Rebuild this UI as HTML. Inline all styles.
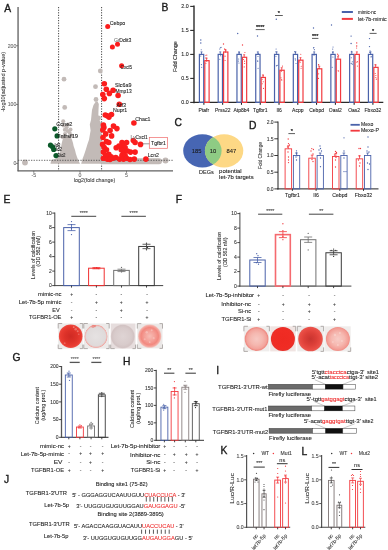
<!DOCTYPE html>
<html><head><meta charset="utf-8"><style>
html,body{margin:0;padding:0;background:#fff;}
svg{display:block;}
text{font-family:'Liberation Sans', Arial, sans-serif;}
</style></head><body>
<svg width="388" height="550" viewBox="0 0 388 550">
<rect width="388" height="550" fill="#ffffff"/>
<text x="4.20" y="11.50" font-size="10.3" fill="#1a1a1a" stroke="#1a1a1a" stroke-width="0.35">A</text>
<line x1="58.60" y1="7.00" x2="58.60" y2="171.00" stroke="#444" stroke-width="1.0" stroke-dasharray="1.2 1.4"/>
<line x1="101.60" y1="7.00" x2="101.60" y2="171.00" stroke="#444" stroke-width="1.0" stroke-dasharray="1.2 1.4"/>
<path d="M50.5 163.8 L51.2 160 L56 158.5 L59.2 156 L59.7 153.8 L60.5 150 L61.2 146 L62 142 L62.8 139 L63.8 137 L66 136 L68 135.5 L70.5 136.5 L72 139.8 L73 143 L73.6 146 L75 150 L75.9 153.8 L77 157 L78.2 160 L80 163.8 Z" fill="#c2bab7"/>
<circle cx="63.20" cy="121.30" r="2.00" fill="#c2bab7"/>
<circle cx="64.80" cy="129.80" r="2.00" fill="#c2bab7"/>
<circle cx="69.70" cy="132.90" r="2.00" fill="#c2bab7"/>
<circle cx="66.60" cy="127.20" r="2.00" fill="#c2bab7"/>
<circle cx="67.50" cy="131.00" r="2.00" fill="#c2bab7"/>
<circle cx="65.00" cy="134.00" r="2.00" fill="#c2bab7"/>
<circle cx="70.50" cy="129.50" r="2.00" fill="#c2bab7"/>
<circle cx="63.50" cy="125.50" r="2.00" fill="#c2bab7"/>
<circle cx="62.50" cy="137.00" r="2.00" fill="#c2bab7"/>
<circle cx="71.50" cy="135.50" r="2.00" fill="#c2bab7"/>
<circle cx="68.00" cy="124.50" r="2.00" fill="#c2bab7"/>
<path d="M81.2 163.8 L82.1 160 L84 155 L86 149 L87.5 144 L89 139.8 L90 134 L90.6 130.6 L89.8 124.4 L91 120 L91.4 116 L92 110 L93.5 105 L95.5 102 L97.5 101.5 L98.8 104 L98.5 110 L98.3 118 L100 121 L101.6 124 L101.6 163.8 Z" fill="#c2bab7"/>
<rect x="100" y="158.3" width="62" height="6" rx="3" fill="#c2bab7"/>
<circle cx="64.00" cy="79.20" r="2.40" fill="#c2bab7"/>
<circle cx="100.30" cy="71.00" r="2.40" fill="#c2bab7"/>
<circle cx="95.50" cy="86.70" r="2.40" fill="#c2bab7"/>
<circle cx="64.70" cy="107.40" r="2.40" fill="#c2bab7"/>
<circle cx="98.50" cy="118.00" r="2.40" fill="#c2bab7"/>
<circle cx="96.00" cy="99.50" r="2.40" fill="#c2bab7"/>
<circle cx="25.00" cy="162.50" r="2.90" fill="#c2bab7"/>
<circle cx="165.50" cy="160.60" r="3.00" fill="#c2bab7"/>
<line x1="18.00" y1="160.30" x2="173.00" y2="160.30" stroke="#444" stroke-width="0.8" stroke-dasharray="1.3 1.3"/>
<circle cx="107.70" cy="26.50" r="2.50" fill="#fb1d1d"/>
<circle cx="112.40" cy="46.90" r="2.50" fill="#fb1d1d"/>
<circle cx="117.50" cy="44.30" r="2.50" fill="#fb1d1d"/>
<circle cx="121.60" cy="65.70" r="2.50" fill="#fb1d1d"/>
<circle cx="104.30" cy="83.70" r="2.80" fill="#fb1d1d"/>
<circle cx="106.30" cy="89.30" r="2.80" fill="#fb1d1d"/>
<circle cx="109.40" cy="93.40" r="2.80" fill="#fb1d1d"/>
<circle cx="113.10" cy="90.30" r="2.80" fill="#fb1d1d"/>
<circle cx="118.10" cy="95.50" r="2.80" fill="#fb1d1d"/>
<circle cx="104.30" cy="98.60" r="2.80" fill="#fb1d1d"/>
<circle cx="102.80" cy="94.50" r="2.80" fill="#fb1d1d"/>
<circle cx="119.30" cy="104.30" r="2.80" fill="#fb1d1d"/>
<circle cx="105.30" cy="115.00" r="2.80" fill="#fb1d1d"/>
<circle cx="109.00" cy="117.10" r="2.80" fill="#fb1d1d"/>
<circle cx="111.50" cy="114.50" r="2.80" fill="#fb1d1d"/>
<circle cx="107.30" cy="115.80" r="2.80" fill="#fb1d1d"/>
<circle cx="103.40" cy="125.00" r="2.80" fill="#fb1d1d"/>
<circle cx="103.90" cy="127.40" r="2.80" fill="#fb1d1d"/>
<circle cx="113.50" cy="126.10" r="2.80" fill="#fb1d1d"/>
<circle cx="116.90" cy="128.60" r="2.80" fill="#fb1d1d"/>
<circle cx="110.10" cy="130.50" r="2.80" fill="#fb1d1d"/>
<circle cx="105.70" cy="133.90" r="2.80" fill="#fb1d1d"/>
<circle cx="111.60" cy="135.90" r="2.80" fill="#fb1d1d"/>
<circle cx="133.90" cy="123.00" r="2.80" fill="#fb1d1d"/>
<circle cx="102.80" cy="130.00" r="2.80" fill="#fb1d1d"/>
<circle cx="103.00" cy="137.50" r="2.80" fill="#fb1d1d"/>
<circle cx="106.50" cy="141.60" r="2.80" fill="#fb1d1d"/>
<circle cx="108.80" cy="142.50" r="2.80" fill="#fb1d1d"/>
<circle cx="102.60" cy="144.40" r="2.80" fill="#fb1d1d"/>
<circle cx="116.20" cy="147.80" r="2.80" fill="#fb1d1d"/>
<circle cx="122.00" cy="142.50" r="2.80" fill="#fb1d1d"/>
<circle cx="126.60" cy="142.50" r="2.80" fill="#fb1d1d"/>
<circle cx="133.30" cy="140.50" r="2.80" fill="#fb1d1d"/>
<circle cx="135.10" cy="142.50" r="2.80" fill="#fb1d1d"/>
<circle cx="140.50" cy="144.40" r="2.80" fill="#fb1d1d"/>
<circle cx="122.70" cy="145.90" r="2.80" fill="#fb1d1d"/>
<circle cx="125.10" cy="147.50" r="2.80" fill="#fb1d1d"/>
<circle cx="121.20" cy="149.80" r="2.80" fill="#fb1d1d"/>
<circle cx="123.50" cy="152.10" r="2.80" fill="#fb1d1d"/>
<circle cx="122.00" cy="155.20" r="2.80" fill="#fb1d1d"/>
<circle cx="125.10" cy="155.50" r="2.80" fill="#fb1d1d"/>
<circle cx="130.50" cy="152.10" r="2.80" fill="#fb1d1d"/>
<circle cx="135.10" cy="152.10" r="2.80" fill="#fb1d1d"/>
<circle cx="104.20" cy="147.50" r="2.80" fill="#fb1d1d"/>
<circle cx="106.50" cy="149.80" r="2.80" fill="#fb1d1d"/>
<circle cx="103.40" cy="152.10" r="2.80" fill="#fb1d1d"/>
<circle cx="105.70" cy="155.20" r="2.80" fill="#fb1d1d"/>
<circle cx="108.80" cy="154.40" r="2.80" fill="#fb1d1d"/>
<circle cx="111.10" cy="156.80" r="2.80" fill="#fb1d1d"/>
<circle cx="127.50" cy="151.00" r="2.80" fill="#fb1d1d"/>
<circle cx="119.00" cy="146.00" r="2.80" fill="#fb1d1d"/>
<circle cx="103.40" cy="158.30" r="2.80" fill="#fb1d1d"/>
<circle cx="107.30" cy="159.10" r="2.80" fill="#fb1d1d"/>
<circle cx="112.70" cy="158.30" r="2.80" fill="#fb1d1d"/>
<circle cx="115.80" cy="157.50" r="2.80" fill="#fb1d1d"/>
<circle cx="119.60" cy="159.10" r="2.80" fill="#fb1d1d"/>
<circle cx="123.50" cy="159.10" r="2.80" fill="#fb1d1d"/>
<circle cx="126.60" cy="158.30" r="2.80" fill="#fb1d1d"/>
<circle cx="134.30" cy="159.10" r="2.80" fill="#fb1d1d"/>
<circle cx="145.90" cy="159.10" r="2.80" fill="#fb1d1d"/>
<circle cx="130.00" cy="159.50" r="2.80" fill="#fb1d1d"/>
<circle cx="110.00" cy="159.50" r="2.80" fill="#fb1d1d"/>
<circle cx="54.80" cy="128.80" r="2.60" fill="#0c5a2a"/>
<circle cx="57.10" cy="135.90" r="2.60" fill="#0c5a2a"/>
<circle cx="50.50" cy="145.20" r="2.60" fill="#0c5a2a"/>
<circle cx="52.50" cy="146.80" r="2.60" fill="#0c5a2a"/>
<circle cx="53.70" cy="149.40" r="2.60" fill="#0c5a2a"/>
<circle cx="56.00" cy="155.60" r="2.60" fill="#0c5a2a"/>
<text x="109.80" y="24.60" font-size="5.2" fill="#222" textLength="15.50" lengthAdjust="spacingAndGlyphs" stroke="#222" stroke-width="0.09">Cebpo</text>
<text x="114.00" y="41.80" font-size="5.2" fill="#777" stroke="#777" stroke-width="0.09">Gr</text>
<text x="119.30" y="41.80" font-size="5.2" fill="#222" textLength="12.00" lengthAdjust="spacingAndGlyphs" stroke="#222" stroke-width="0.09">Ddit3</text>
<text x="120.60" y="68.90" font-size="5.2" fill="#222" textLength="11.60" lengthAdjust="spacingAndGlyphs" stroke="#222" stroke-width="0.09">Cxcl5</text>
<text x="115.00" y="86.90" font-size="5.2" fill="#222" textLength="16.40" lengthAdjust="spacingAndGlyphs" stroke="#222" stroke-width="0.09">Slc6a9</text>
<text x="115.50" y="93.30" font-size="5.2" fill="#222" textLength="16.20" lengthAdjust="spacingAndGlyphs" stroke="#222" stroke-width="0.09">Mmp13</text>
<text x="116.50" y="106.80" font-size="5.2" fill="#222" textLength="9.50" lengthAdjust="spacingAndGlyphs" stroke="#222" stroke-width="0.09">Atf3</text>
<text x="113.00" y="112.10" font-size="5.2" fill="#222" textLength="14.30" lengthAdjust="spacingAndGlyphs" stroke="#222" stroke-width="0.09">Nupr1</text>
<text x="135.30" y="120.60" font-size="5.2" fill="#222" textLength="15.20" lengthAdjust="spacingAndGlyphs" stroke="#222" stroke-width="0.09">Chac1</text>
<text x="130.50" y="138.70" font-size="5.2" fill="#777" stroke="#777" stroke-width="0.09">Ly</text>
<text x="135.60" y="138.70" font-size="5.2" fill="#222" textLength="12.10" lengthAdjust="spacingAndGlyphs" stroke="#222" stroke-width="0.09">Cxcl1</text>
<text x="147.70" y="156.60" font-size="5.2" fill="#222" textLength="11.30" lengthAdjust="spacingAndGlyphs" stroke="#222" stroke-width="0.09">Lcn2</text>
<text x="56.30" y="126.40" font-size="5.2" fill="#222" textLength="16.00" lengthAdjust="spacingAndGlyphs" stroke="#222" stroke-width="0.09">Ccne2</text>
<text x="57.00" y="137.60" font-size="5.2" fill="#222" textLength="21.00" lengthAdjust="spacingAndGlyphs" stroke="#222" stroke-width="0.09">Tnfrsf19</text>
<text x="54.50" y="146.90" font-size="5.2" fill="#222" textLength="6.00" lengthAdjust="spacingAndGlyphs" stroke="#222" stroke-width="0.09">Id3</text>
<text x="56.00" y="151.20" font-size="5.2" fill="#222" textLength="6.00" lengthAdjust="spacingAndGlyphs" stroke="#222" stroke-width="0.09">Id2</text>
<text x="57.50" y="157.40" font-size="5.2" fill="#222" textLength="8.00" lengthAdjust="spacingAndGlyphs" stroke="#222" stroke-width="0.09">Dio2</text>
<rect x="149.30" y="137.50" width="18.10" height="10.80" fill="none" stroke="#f06a6a" stroke-width="0.7"/>
<line x1="142.50" y1="143.80" x2="149.30" y2="143.80" stroke="#555" stroke-width="0.6"/>
<text x="151.00" y="144.60" font-size="5.2" fill="#222" textLength="14.80" lengthAdjust="spacingAndGlyphs" stroke="#222" stroke-width="0.09">Tgfbr1</text>
<line x1="18.05" y1="7.00" x2="18.05" y2="171.30" stroke="#505050" stroke-width="1.2"/>
<line x1="17.60" y1="170.80" x2="173.00" y2="170.80" stroke="#606060" stroke-width="1.2"/>
<line x1="16.20" y1="163.50" x2="18.10" y2="163.50" stroke="#666" stroke-width="0.8"/>
<text x="16.30" y="165.40" font-size="5.2" fill="#666" text-anchor="end" stroke="#666" stroke-width="0.09">0</text>
<line x1="16.20" y1="104.50" x2="18.10" y2="104.50" stroke="#666" stroke-width="0.8"/>
<text x="16.30" y="106.40" font-size="5.2" fill="#666" text-anchor="end" stroke="#666" stroke-width="0.09">100</text>
<line x1="16.20" y1="45.70" x2="18.10" y2="45.70" stroke="#666" stroke-width="0.8"/>
<text x="16.30" y="47.60" font-size="5.2" fill="#666" text-anchor="end" stroke="#666" stroke-width="0.09">200</text>
<line x1="33.80" y1="170.80" x2="33.80" y2="172.80" stroke="#666" stroke-width="0.8"/>
<text x="33.80" y="176.50" font-size="5.2" fill="#666" text-anchor="middle" stroke="#666" stroke-width="0.09">-5</text>
<line x1="80.00" y1="170.80" x2="80.00" y2="172.80" stroke="#666" stroke-width="0.8"/>
<text x="80.00" y="176.50" font-size="5.2" fill="#666" text-anchor="middle" stroke="#666" stroke-width="0.09">0</text>
<line x1="126.50" y1="170.80" x2="126.50" y2="172.80" stroke="#666" stroke-width="0.8"/>
<text x="126.50" y="176.50" font-size="5.2" fill="#666" text-anchor="middle" stroke="#666" stroke-width="0.09">5</text>
<text x="94.60" y="182.00" font-size="5.4" fill="#444" text-anchor="middle" textLength="41.30" lengthAdjust="spacingAndGlyphs" stroke="#444" stroke-width="0.09">log2(fold change)</text>
<text x="5.30" y="81.80" font-size="5.2" fill="#444" text-anchor="middle" textLength="60.00" lengthAdjust="spacingAndGlyphs" transform="rotate(-90 5.30 81.80)" stroke="#444" stroke-width="0.09">-log10(adjusted p-value)</text>
<text x="161.50" y="10.80" font-size="10.3" fill="#1a1a1a" stroke="#1a1a1a" stroke-width="0.35">B</text>
<line x1="194.00" y1="5.50" x2="194.00" y2="103.20" stroke="#2a2a2a" stroke-width="1.4"/>
<line x1="193.30" y1="102.40" x2="383.30" y2="102.40" stroke="#2a2a2a" stroke-width="1.3"/>
<line x1="190.20" y1="102.40" x2="194.00" y2="102.40" stroke="#2a2a2a" stroke-width="1.1"/>
<text x="188.60" y="104.30" font-size="5.3" fill="#222" text-anchor="end" stroke="#222" stroke-width="0.09">0.0</text>
<line x1="190.20" y1="78.40" x2="194.00" y2="78.40" stroke="#2a2a2a" stroke-width="1.1"/>
<text x="188.60" y="80.30" font-size="5.3" fill="#222" text-anchor="end" stroke="#222" stroke-width="0.09">0.5</text>
<line x1="190.20" y1="54.40" x2="194.00" y2="54.40" stroke="#2a2a2a" stroke-width="1.1"/>
<text x="188.60" y="56.30" font-size="5.3" fill="#222" text-anchor="end" stroke="#222" stroke-width="0.09">1.0</text>
<line x1="190.20" y1="30.40" x2="194.00" y2="30.40" stroke="#2a2a2a" stroke-width="1.1"/>
<text x="188.60" y="32.30" font-size="5.3" fill="#222" text-anchor="end" stroke="#222" stroke-width="0.09">1.5</text>
<line x1="190.20" y1="6.40" x2="194.00" y2="6.40" stroke="#2a2a2a" stroke-width="1.1"/>
<text x="188.60" y="8.30" font-size="5.3" fill="#222" text-anchor="end" stroke="#222" stroke-width="0.09">2.0</text>
<text x="177.40" y="56.60" font-size="5.4" fill="#222" text-anchor="middle" textLength="31.00" lengthAdjust="spacingAndGlyphs" transform="rotate(-90 177.40 56.60)" stroke="#222" stroke-width="0.09">Fold Change</text>
<line x1="203.90" y1="102.40" x2="203.90" y2="104.80" stroke="#111" stroke-width="1.0"/>
<text x="203.90" y="112.00" font-size="5.0" fill="#222" text-anchor="middle" stroke="#222" stroke-width="0.09">Ptafr</text>
<rect x="199.40" y="54.40" width="4.30" height="48.00" fill="none" stroke="#4a62aa" stroke-width="1.2"/>
<rect x="204.80" y="60.64" width="4.30" height="41.76" fill="none" stroke="#f23a3f" stroke-width="1.2"/>
<line x1="201.50" y1="51.90" x2="201.50" y2="54.40" stroke="#4a62aa" stroke-width="0.8"/>
<line x1="200.50" y1="51.90" x2="202.50" y2="51.90" stroke="#4a62aa" stroke-width="0.8"/>
<line x1="206.60" y1="58.14" x2="206.60" y2="60.64" stroke="#f23a3f" stroke-width="0.8"/>
<line x1="205.60" y1="58.14" x2="207.60" y2="58.14" stroke="#f23a3f" stroke-width="0.8"/>
<circle cx="201.22" cy="49.72" r="0.55" fill="#4a62aa"/>
<circle cx="206.84" cy="55.02" r="0.55" fill="#f23a3f"/>
<circle cx="201.56" cy="54.45" r="0.55" fill="#4a62aa"/>
<circle cx="205.89" cy="63.28" r="0.55" fill="#f23a3f"/>
<circle cx="200.76" cy="55.94" r="0.55" fill="#4a62aa"/>
<circle cx="205.91" cy="55.36" r="0.55" fill="#f23a3f"/>
<circle cx="201.38" cy="64.59" r="0.55" fill="#4a62aa"/>
<circle cx="206.00" cy="57.88" r="0.55" fill="#f23a3f"/>
<circle cx="201.70" cy="67.25" r="0.55" fill="#4a62aa"/>
<circle cx="206.72" cy="61.18" r="0.55" fill="#f23a3f"/>
<line x1="222.68" y1="102.40" x2="222.68" y2="104.80" stroke="#111" stroke-width="1.0"/>
<text x="222.68" y="112.00" font-size="5.0" fill="#222" text-anchor="middle" stroke="#222" stroke-width="0.09">Prss22</text>
<rect x="218.18" y="54.40" width="4.30" height="48.00" fill="none" stroke="#4a62aa" stroke-width="1.2"/>
<rect x="223.58" y="52.00" width="4.30" height="50.40" fill="none" stroke="#f23a3f" stroke-width="1.2"/>
<line x1="220.28" y1="51.90" x2="220.28" y2="54.40" stroke="#4a62aa" stroke-width="0.8"/>
<line x1="219.28" y1="51.90" x2="221.28" y2="51.90" stroke="#4a62aa" stroke-width="0.8"/>
<line x1="225.38" y1="49.50" x2="225.38" y2="52.00" stroke="#f23a3f" stroke-width="0.8"/>
<line x1="224.38" y1="49.50" x2="226.38" y2="49.50" stroke="#f23a3f" stroke-width="0.8"/>
<circle cx="221.04" cy="47.42" r="0.55" fill="#4a62aa"/>
<circle cx="225.95" cy="50.50" r="0.55" fill="#f23a3f"/>
<circle cx="219.71" cy="48.99" r="0.55" fill="#4a62aa"/>
<circle cx="225.07" cy="60.51" r="0.55" fill="#f23a3f"/>
<circle cx="219.77" cy="59.20" r="0.55" fill="#4a62aa"/>
<circle cx="225.60" cy="52.08" r="0.55" fill="#f23a3f"/>
<circle cx="220.36" cy="47.78" r="0.55" fill="#4a62aa"/>
<circle cx="224.68" cy="48.91" r="0.55" fill="#f23a3f"/>
<circle cx="220.57" cy="55.81" r="0.55" fill="#4a62aa"/>
<circle cx="225.08" cy="56.13" r="0.55" fill="#f23a3f"/>
<line x1="241.46" y1="102.40" x2="241.46" y2="104.80" stroke="#111" stroke-width="1.0"/>
<text x="241.46" y="112.00" font-size="5.0" fill="#222" text-anchor="middle" stroke="#222" stroke-width="0.09">Atp8b4</text>
<rect x="236.96" y="54.40" width="4.30" height="48.00" fill="none" stroke="#4a62aa" stroke-width="1.2"/>
<rect x="242.36" y="57.28" width="4.30" height="45.12" fill="none" stroke="#f23a3f" stroke-width="1.2"/>
<line x1="239.06" y1="51.90" x2="239.06" y2="54.40" stroke="#4a62aa" stroke-width="0.8"/>
<line x1="238.06" y1="51.90" x2="240.06" y2="51.90" stroke="#4a62aa" stroke-width="0.8"/>
<line x1="244.16" y1="54.78" x2="244.16" y2="57.28" stroke="#f23a3f" stroke-width="0.8"/>
<line x1="243.16" y1="54.78" x2="245.16" y2="54.78" stroke="#f23a3f" stroke-width="0.8"/>
<circle cx="238.99" cy="52.99" r="0.55" fill="#4a62aa"/>
<circle cx="244.63" cy="63.56" r="0.55" fill="#f23a3f"/>
<circle cx="238.65" cy="59.04" r="0.55" fill="#4a62aa"/>
<circle cx="244.20" cy="66.91" r="0.55" fill="#f23a3f"/>
<circle cx="239.43" cy="52.73" r="0.55" fill="#4a62aa"/>
<circle cx="244.93" cy="52.52" r="0.55" fill="#f23a3f"/>
<circle cx="238.93" cy="63.06" r="0.55" fill="#4a62aa"/>
<circle cx="243.60" cy="59.57" r="0.55" fill="#f23a3f"/>
<circle cx="238.32" cy="61.10" r="0.55" fill="#4a62aa"/>
<circle cx="244.58" cy="61.17" r="0.55" fill="#f23a3f"/>
<line x1="260.24" y1="102.40" x2="260.24" y2="104.80" stroke="#111" stroke-width="1.0"/>
<text x="260.24" y="112.00" font-size="5.0" fill="#222" text-anchor="middle" stroke="#222" stroke-width="0.09">Tgfbr1</text>
<rect x="255.74" y="54.40" width="4.30" height="48.00" fill="none" stroke="#4a62aa" stroke-width="1.2"/>
<rect x="261.14" y="77.44" width="4.30" height="24.96" fill="none" stroke="#f23a3f" stroke-width="1.2"/>
<line x1="257.84" y1="51.90" x2="257.84" y2="54.40" stroke="#4a62aa" stroke-width="0.8"/>
<line x1="256.84" y1="51.90" x2="258.84" y2="51.90" stroke="#4a62aa" stroke-width="0.8"/>
<line x1="262.94" y1="74.94" x2="262.94" y2="77.44" stroke="#f23a3f" stroke-width="0.8"/>
<line x1="261.94" y1="74.94" x2="263.94" y2="74.94" stroke="#f23a3f" stroke-width="0.8"/>
<circle cx="258.44" cy="53.30" r="0.55" fill="#4a62aa"/>
<circle cx="263.25" cy="81.73" r="0.55" fill="#f23a3f"/>
<circle cx="257.97" cy="56.44" r="0.55" fill="#4a62aa"/>
<circle cx="263.48" cy="88.39" r="0.55" fill="#f23a3f"/>
<circle cx="257.80" cy="61.01" r="0.55" fill="#4a62aa"/>
<circle cx="262.24" cy="83.77" r="0.55" fill="#f23a3f"/>
<circle cx="258.08" cy="68.25" r="0.55" fill="#4a62aa"/>
<circle cx="263.46" cy="75.85" r="0.55" fill="#f23a3f"/>
<circle cx="257.66" cy="61.11" r="0.55" fill="#4a62aa"/>
<circle cx="262.18" cy="79.21" r="0.55" fill="#f23a3f"/>
<line x1="279.02" y1="102.40" x2="279.02" y2="104.80" stroke="#111" stroke-width="1.0"/>
<text x="279.02" y="112.00" font-size="5.0" fill="#222" text-anchor="middle" stroke="#222" stroke-width="0.09">Il6</text>
<rect x="274.52" y="54.40" width="4.30" height="48.00" fill="none" stroke="#4a62aa" stroke-width="1.2"/>
<rect x="279.92" y="70.24" width="4.30" height="32.16" fill="none" stroke="#f23a3f" stroke-width="1.2"/>
<line x1="276.62" y1="51.90" x2="276.62" y2="54.40" stroke="#4a62aa" stroke-width="0.8"/>
<line x1="275.62" y1="51.90" x2="277.62" y2="51.90" stroke="#4a62aa" stroke-width="0.8"/>
<line x1="281.72" y1="67.74" x2="281.72" y2="70.24" stroke="#f23a3f" stroke-width="0.8"/>
<line x1="280.72" y1="67.74" x2="282.72" y2="67.74" stroke="#f23a3f" stroke-width="0.8"/>
<circle cx="276.09" cy="48.98" r="0.55" fill="#4a62aa"/>
<circle cx="281.01" cy="77.84" r="0.55" fill="#f23a3f"/>
<circle cx="276.03" cy="51.85" r="0.55" fill="#4a62aa"/>
<circle cx="281.55" cy="79.80" r="0.55" fill="#f23a3f"/>
<circle cx="275.95" cy="56.28" r="0.55" fill="#4a62aa"/>
<circle cx="281.80" cy="80.02" r="0.55" fill="#f23a3f"/>
<circle cx="277.13" cy="65.41" r="0.55" fill="#4a62aa"/>
<circle cx="281.37" cy="71.13" r="0.55" fill="#f23a3f"/>
<circle cx="276.39" cy="65.85" r="0.55" fill="#4a62aa"/>
<circle cx="282.45" cy="66.11" r="0.55" fill="#f23a3f"/>
<line x1="297.80" y1="102.40" x2="297.80" y2="104.80" stroke="#111" stroke-width="1.0"/>
<text x="297.80" y="112.00" font-size="5.0" fill="#222" text-anchor="middle" stroke="#222" stroke-width="0.09">Acpp</text>
<rect x="293.30" y="54.40" width="4.30" height="48.00" fill="none" stroke="#4a62aa" stroke-width="1.2"/>
<rect x="298.70" y="60.16" width="4.30" height="42.24" fill="none" stroke="#f23a3f" stroke-width="1.2"/>
<line x1="295.40" y1="51.90" x2="295.40" y2="54.40" stroke="#4a62aa" stroke-width="0.8"/>
<line x1="294.40" y1="51.90" x2="296.40" y2="51.90" stroke="#4a62aa" stroke-width="0.8"/>
<line x1="300.50" y1="57.66" x2="300.50" y2="60.16" stroke="#f23a3f" stroke-width="0.8"/>
<line x1="299.50" y1="57.66" x2="301.50" y2="57.66" stroke="#f23a3f" stroke-width="0.8"/>
<circle cx="294.88" cy="51.50" r="0.55" fill="#4a62aa"/>
<circle cx="300.07" cy="62.37" r="0.55" fill="#f23a3f"/>
<circle cx="295.54" cy="52.18" r="0.55" fill="#4a62aa"/>
<circle cx="299.71" cy="61.12" r="0.55" fill="#f23a3f"/>
<circle cx="295.19" cy="58.86" r="0.55" fill="#4a62aa"/>
<circle cx="301.22" cy="66.28" r="0.55" fill="#f23a3f"/>
<circle cx="295.42" cy="59.99" r="0.55" fill="#4a62aa"/>
<circle cx="300.78" cy="54.19" r="0.55" fill="#f23a3f"/>
<circle cx="296.04" cy="63.56" r="0.55" fill="#4a62aa"/>
<circle cx="301.10" cy="68.32" r="0.55" fill="#f23a3f"/>
<line x1="316.58" y1="102.40" x2="316.58" y2="104.80" stroke="#111" stroke-width="1.0"/>
<text x="316.58" y="112.00" font-size="5.0" fill="#222" text-anchor="middle" stroke="#222" stroke-width="0.09">Cebpd</text>
<rect x="312.08" y="54.40" width="4.30" height="48.00" fill="none" stroke="#4a62aa" stroke-width="1.2"/>
<rect x="317.48" y="68.80" width="4.30" height="33.60" fill="none" stroke="#f23a3f" stroke-width="1.2"/>
<line x1="314.18" y1="51.90" x2="314.18" y2="54.40" stroke="#4a62aa" stroke-width="0.8"/>
<line x1="313.18" y1="51.90" x2="315.18" y2="51.90" stroke="#4a62aa" stroke-width="0.8"/>
<line x1="319.28" y1="66.30" x2="319.28" y2="68.80" stroke="#f23a3f" stroke-width="0.8"/>
<line x1="318.28" y1="66.30" x2="320.28" y2="66.30" stroke="#f23a3f" stroke-width="0.8"/>
<circle cx="314.01" cy="55.18" r="0.55" fill="#4a62aa"/>
<circle cx="318.65" cy="73.85" r="0.55" fill="#f23a3f"/>
<circle cx="313.48" cy="47.88" r="0.55" fill="#4a62aa"/>
<circle cx="318.81" cy="64.88" r="0.55" fill="#f23a3f"/>
<circle cx="313.92" cy="47.56" r="0.55" fill="#4a62aa"/>
<circle cx="318.48" cy="64.67" r="0.55" fill="#f23a3f"/>
<circle cx="313.54" cy="54.40" r="0.55" fill="#4a62aa"/>
<circle cx="318.52" cy="78.41" r="0.55" fill="#f23a3f"/>
<circle cx="314.36" cy="49.67" r="0.55" fill="#4a62aa"/>
<circle cx="318.88" cy="68.40" r="0.55" fill="#f23a3f"/>
<line x1="335.36" y1="102.40" x2="335.36" y2="104.80" stroke="#111" stroke-width="1.0"/>
<text x="335.36" y="112.00" font-size="5.0" fill="#222" text-anchor="middle" stroke="#222" stroke-width="0.09">Oasl2</text>
<rect x="330.86" y="54.40" width="4.30" height="48.00" fill="none" stroke="#4a62aa" stroke-width="1.2"/>
<rect x="336.26" y="59.20" width="4.30" height="43.20" fill="none" stroke="#f23a3f" stroke-width="1.2"/>
<line x1="332.96" y1="51.90" x2="332.96" y2="54.40" stroke="#4a62aa" stroke-width="0.8"/>
<line x1="331.96" y1="51.90" x2="333.96" y2="51.90" stroke="#4a62aa" stroke-width="0.8"/>
<line x1="338.06" y1="56.70" x2="338.06" y2="59.20" stroke="#f23a3f" stroke-width="0.8"/>
<line x1="337.06" y1="56.70" x2="339.06" y2="56.70" stroke="#f23a3f" stroke-width="0.8"/>
<circle cx="332.74" cy="49.10" r="0.55" fill="#4a62aa"/>
<circle cx="338.62" cy="71.07" r="0.55" fill="#f23a3f"/>
<circle cx="332.91" cy="57.04" r="0.55" fill="#4a62aa"/>
<circle cx="337.40" cy="54.14" r="0.55" fill="#f23a3f"/>
<circle cx="332.71" cy="52.22" r="0.55" fill="#4a62aa"/>
<circle cx="338.59" cy="55.27" r="0.55" fill="#f23a3f"/>
<circle cx="332.20" cy="67.32" r="0.55" fill="#4a62aa"/>
<circle cx="338.11" cy="54.99" r="0.55" fill="#f23a3f"/>
<circle cx="333.03" cy="46.99" r="0.55" fill="#4a62aa"/>
<circle cx="338.10" cy="70.79" r="0.55" fill="#f23a3f"/>
<line x1="354.14" y1="102.40" x2="354.14" y2="104.80" stroke="#111" stroke-width="1.0"/>
<text x="354.14" y="112.00" font-size="5.0" fill="#222" text-anchor="middle" stroke="#222" stroke-width="0.09">Oas2</text>
<rect x="349.64" y="54.40" width="4.30" height="48.00" fill="none" stroke="#4a62aa" stroke-width="1.2"/>
<rect x="355.04" y="54.40" width="4.30" height="48.00" fill="none" stroke="#f23a3f" stroke-width="1.2"/>
<line x1="351.74" y1="51.90" x2="351.74" y2="54.40" stroke="#4a62aa" stroke-width="0.8"/>
<line x1="350.74" y1="51.90" x2="352.74" y2="51.90" stroke="#4a62aa" stroke-width="0.8"/>
<line x1="356.84" y1="51.90" x2="356.84" y2="54.40" stroke="#f23a3f" stroke-width="0.8"/>
<line x1="355.84" y1="51.90" x2="357.84" y2="51.90" stroke="#f23a3f" stroke-width="0.8"/>
<circle cx="352.32" cy="61.72" r="0.55" fill="#4a62aa"/>
<circle cx="356.46" cy="54.37" r="0.55" fill="#f23a3f"/>
<circle cx="351.21" cy="63.38" r="0.55" fill="#4a62aa"/>
<circle cx="356.89" cy="62.20" r="0.55" fill="#f23a3f"/>
<circle cx="351.47" cy="51.31" r="0.55" fill="#4a62aa"/>
<circle cx="357.34" cy="66.11" r="0.55" fill="#f23a3f"/>
<circle cx="352.30" cy="64.13" r="0.55" fill="#4a62aa"/>
<circle cx="357.35" cy="61.46" r="0.55" fill="#f23a3f"/>
<circle cx="351.30" cy="57.79" r="0.55" fill="#4a62aa"/>
<circle cx="356.61" cy="47.95" r="0.55" fill="#f23a3f"/>
<line x1="372.92" y1="102.40" x2="372.92" y2="104.80" stroke="#111" stroke-width="1.0"/>
<text x="372.92" y="112.00" font-size="5.0" fill="#222" text-anchor="middle" stroke="#222" stroke-width="0.09">Fbxo32</text>
<rect x="368.42" y="54.40" width="4.30" height="48.00" fill="none" stroke="#4a62aa" stroke-width="1.2"/>
<rect x="373.82" y="67.36" width="4.30" height="35.04" fill="none" stroke="#f23a3f" stroke-width="1.2"/>
<line x1="370.52" y1="51.90" x2="370.52" y2="54.40" stroke="#4a62aa" stroke-width="0.8"/>
<line x1="369.52" y1="51.90" x2="371.52" y2="51.90" stroke="#4a62aa" stroke-width="0.8"/>
<line x1="375.62" y1="64.86" x2="375.62" y2="67.36" stroke="#f23a3f" stroke-width="0.8"/>
<line x1="374.62" y1="64.86" x2="376.62" y2="64.86" stroke="#f23a3f" stroke-width="0.8"/>
<circle cx="369.76" cy="52.55" r="0.55" fill="#4a62aa"/>
<circle cx="375.23" cy="73.52" r="0.55" fill="#f23a3f"/>
<circle cx="371.25" cy="56.24" r="0.55" fill="#4a62aa"/>
<circle cx="376.32" cy="79.13" r="0.55" fill="#f23a3f"/>
<circle cx="371.25" cy="54.42" r="0.55" fill="#4a62aa"/>
<circle cx="375.17" cy="64.67" r="0.55" fill="#f23a3f"/>
<circle cx="370.03" cy="50.90" r="0.55" fill="#4a62aa"/>
<circle cx="375.82" cy="77.47" r="0.55" fill="#f23a3f"/>
<circle cx="371.06" cy="56.95" r="0.55" fill="#4a62aa"/>
<circle cx="375.86" cy="75.55" r="0.55" fill="#f23a3f"/>
<circle cx="331.50" cy="25.00" r="0.70" fill="#4a62aa"/>
<circle cx="351.10" cy="36.10" r="0.70" fill="#4a62aa"/>
<circle cx="351.10" cy="43.50" r="0.70" fill="#4a62aa"/>
<circle cx="369.50" cy="38.60" r="0.70" fill="#4a62aa"/>
<circle cx="369.50" cy="46.60" r="0.70" fill="#4a62aa"/>
<circle cx="237.70" cy="33.50" r="0.70" fill="#4a62aa"/>
<circle cx="200.80" cy="40.00" r="0.70" fill="#4a62aa"/>
<circle cx="257.50" cy="36.00" r="0.70" fill="#4a62aa"/>
<circle cx="200.80" cy="43.00" r="0.70" fill="#4a62aa"/>
<circle cx="313.50" cy="28.00" r="0.70" fill="#4a62aa"/>
<circle cx="242.50" cy="45.00" r="0.70" fill="#f23a3f"/>
<circle cx="223.50" cy="44.00" r="0.70" fill="#f23a3f"/>
<circle cx="356.70" cy="42.90" r="0.70" fill="#f23a3f"/>
<circle cx="356.70" cy="46.00" r="0.70" fill="#f23a3f"/>
<line x1="255.70" y1="29.60" x2="264.70" y2="29.60" stroke="#333" stroke-width="0.8"/>
<text x="260.20" y="29.32" font-size="5.5" fill="#333" text-anchor="middle" stroke="#333" stroke-width="0.25">****</text>
<line x1="275.00" y1="15.50" x2="282.80" y2="15.50" stroke="#333" stroke-width="0.8"/>
<text x="278.90" y="14.62" font-size="5.5" fill="#333" text-anchor="middle" stroke="#333" stroke-width="0.25">*</text>
<circle cx="276.30" cy="19.30" r="0.70" fill="#4a62aa"/>
<line x1="312.00" y1="38.40" x2="318.40" y2="38.40" stroke="#333" stroke-width="0.8"/>
<text x="315.20" y="38.22" font-size="5.5" fill="#333" text-anchor="middle" stroke="#333" stroke-width="0.25">***</text>
<line x1="369.60" y1="33.40" x2="376.60" y2="33.40" stroke="#333" stroke-width="0.8"/>
<text x="373.10" y="33.42" font-size="5.5" fill="#333" text-anchor="middle" stroke="#333" stroke-width="0.25">*</text>
<line x1="341.80" y1="12.00" x2="352.90" y2="12.00" stroke="#4a62aa" stroke-width="2"/>
<text x="358.00" y="13.80" font-size="5.2" fill="#222" textLength="18.00" lengthAdjust="spacingAndGlyphs" stroke="#222" stroke-width="0.09">mimic-nc</text>
<line x1="341.80" y1="18.90" x2="352.90" y2="18.90" stroke="#f23a3f" stroke-width="2"/>
<text x="358.00" y="20.70" font-size="5.2" fill="#222" textLength="28.60" lengthAdjust="spacingAndGlyphs" stroke="#222" stroke-width="0.09">let-7b-mimic</text>
<text x="174.60" y="126.30" font-size="10.3" fill="#1a1a1a" stroke="#1a1a1a" stroke-width="0.35">C</text>
<ellipse cx="202.4" cy="150.8" rx="19.2" ry="16.6" fill="#4766b3"/>
<ellipse cx="224.1" cy="150.8" rx="19.2" ry="16.6" fill="#fdd885"/>
<clipPath id="cb"><ellipse cx="202.4" cy="150.8" rx="19.2" ry="16.6"/></clipPath>
<ellipse cx="224.1" cy="150.8" rx="19.2" ry="16.6" fill="#8ecb84" clip-path="url(#cb)"/>
<text x="196.70" y="153.30" font-size="5.8" fill="#1a1a1a" text-anchor="middle" stroke="#1a1a1a" stroke-width="0.09">185</text>
<text x="213.00" y="153.30" font-size="5.8" fill="#1a1a1a" text-anchor="middle" stroke="#1a1a1a" stroke-width="0.09">10</text>
<text x="231.40" y="153.30" font-size="5.8" fill="#1a1a1a" text-anchor="middle" stroke="#1a1a1a" stroke-width="0.09">847</text>
<text x="199.10" y="174.40" font-size="5.8" fill="#222" textLength="14.80" lengthAdjust="spacingAndGlyphs" stroke="#222" stroke-width="0.09">DEGs</text>
<text x="219.10" y="173.00" font-size="5.8" fill="#222" textLength="22.60" lengthAdjust="spacingAndGlyphs" stroke="#222" stroke-width="0.09">potential</text>
<text x="219.10" y="178.70" font-size="5.8" fill="#222" textLength="34.60" lengthAdjust="spacingAndGlyphs" stroke="#222" stroke-width="0.09">let-7b targets</text>
<text x="248.90" y="128.70" font-size="10.3" fill="#1a1a1a" stroke="#1a1a1a" stroke-width="0.35">D</text>
<line x1="278.00" y1="121.50" x2="278.00" y2="189.50" stroke="#222" stroke-width="1.0"/>
<line x1="277.50" y1="188.90" x2="378.50" y2="188.90" stroke="#222" stroke-width="1.0"/>
<line x1="274.30" y1="188.90" x2="278.00" y2="188.90" stroke="#222" stroke-width="0.9"/>
<text x="273.60" y="190.70" font-size="5.0" fill="#333" text-anchor="end" stroke="#333" stroke-width="0.09">0.0</text>
<line x1="274.30" y1="172.20" x2="278.00" y2="172.20" stroke="#222" stroke-width="0.9"/>
<text x="273.60" y="174.00" font-size="5.0" fill="#333" text-anchor="end" stroke="#333" stroke-width="0.09">0.5</text>
<line x1="274.30" y1="155.50" x2="278.00" y2="155.50" stroke="#222" stroke-width="0.9"/>
<text x="273.60" y="157.30" font-size="5.0" fill="#333" text-anchor="end" stroke="#333" stroke-width="0.09">1.0</text>
<line x1="274.30" y1="138.80" x2="278.00" y2="138.80" stroke="#222" stroke-width="0.9"/>
<text x="273.60" y="140.60" font-size="5.0" fill="#333" text-anchor="end" stroke="#333" stroke-width="0.09">1.5</text>
<line x1="274.30" y1="122.10" x2="278.00" y2="122.10" stroke="#222" stroke-width="0.9"/>
<text x="273.60" y="123.90" font-size="5.0" fill="#333" text-anchor="end" stroke="#333" stroke-width="0.09">2.0</text>
<text x="262.30" y="155.50" font-size="5.2" fill="#333" text-anchor="middle" textLength="27.00" lengthAdjust="spacingAndGlyphs" transform="rotate(-90 262.30 155.50)" stroke="#333" stroke-width="0.09">Fold Change</text>
<line x1="292.40" y1="188.90" x2="292.40" y2="190.90" stroke="#222" stroke-width="0.9"/>
<text x="292.40" y="196.60" font-size="5.2" fill="#222" text-anchor="middle" stroke="#222" stroke-width="0.09">Tgfbr1</text>
<rect x="285.10" y="148.82" width="6.50" height="40.08" fill="none" stroke="#f23a3f" stroke-width="0.9"/>
<rect x="293.40" y="155.50" width="6.30" height="33.40" fill="none" stroke="#4a62aa" stroke-width="0.9"/>
<line x1="288.40" y1="145.82" x2="288.40" y2="148.82" stroke="#f23a3f" stroke-width="0.8"/>
<line x1="287.10" y1="145.82" x2="289.70" y2="145.82" stroke="#f23a3f" stroke-width="0.8"/>
<line x1="296.50" y1="153.00" x2="296.50" y2="155.50" stroke="#4a62aa" stroke-width="0.8"/>
<line x1="295.20" y1="153.00" x2="297.80" y2="153.00" stroke="#4a62aa" stroke-width="0.8"/>
<circle cx="288.20" cy="139.00" r="0.65" fill="#f23a3f"/>
<circle cx="288.50" cy="143.60" r="0.65" fill="#f23a3f"/>
<circle cx="289.50" cy="145.00" r="0.65" fill="#f23a3f"/>
<circle cx="287.50" cy="147.00" r="0.65" fill="#f23a3f"/>
<circle cx="288.00" cy="152.00" r="0.65" fill="#f23a3f"/>
<circle cx="288.50" cy="157.00" r="0.65" fill="#f23a3f"/>
<circle cx="288.50" cy="160.00" r="0.65" fill="#f23a3f"/>
<circle cx="288.50" cy="162.60" r="0.65" fill="#f23a3f"/>
<circle cx="296.50" cy="150.80" r="0.65" fill="#4a62aa"/>
<circle cx="296.50" cy="153.00" r="0.65" fill="#4a62aa"/>
<circle cx="297.50" cy="155.50" r="0.65" fill="#4a62aa"/>
<circle cx="296.00" cy="157.00" r="0.65" fill="#4a62aa"/>
<circle cx="296.50" cy="160.00" r="0.65" fill="#4a62aa"/>
<line x1="316.10" y1="188.90" x2="316.10" y2="190.90" stroke="#222" stroke-width="0.9"/>
<text x="316.10" y="196.60" font-size="5.2" fill="#222" text-anchor="middle" stroke="#222" stroke-width="0.09">Il6</text>
<rect x="308.80" y="158.17" width="6.50" height="30.73" fill="none" stroke="#f23a3f" stroke-width="0.9"/>
<rect x="317.10" y="155.50" width="6.30" height="33.40" fill="none" stroke="#4a62aa" stroke-width="0.9"/>
<line x1="312.10" y1="155.17" x2="312.10" y2="158.17" stroke="#f23a3f" stroke-width="0.8"/>
<line x1="310.80" y1="155.17" x2="313.40" y2="155.17" stroke="#f23a3f" stroke-width="0.8"/>
<line x1="320.20" y1="153.00" x2="320.20" y2="155.50" stroke="#4a62aa" stroke-width="0.8"/>
<line x1="318.90" y1="153.00" x2="321.50" y2="153.00" stroke="#4a62aa" stroke-width="0.8"/>
<circle cx="311.80" cy="148.60" r="0.65" fill="#f23a3f"/>
<circle cx="313.40" cy="149.50" r="0.65" fill="#f23a3f"/>
<circle cx="311.00" cy="151.00" r="0.65" fill="#f23a3f"/>
<circle cx="313.00" cy="154.00" r="0.65" fill="#f23a3f"/>
<circle cx="312.00" cy="159.50" r="0.65" fill="#f23a3f"/>
<circle cx="313.00" cy="161.50" r="0.65" fill="#f23a3f"/>
<circle cx="320.00" cy="146.00" r="0.65" fill="#4a62aa"/>
<circle cx="320.50" cy="148.50" r="0.65" fill="#4a62aa"/>
<circle cx="319.00" cy="150.00" r="0.65" fill="#4a62aa"/>
<circle cx="321.50" cy="151.00" r="0.65" fill="#4a62aa"/>
<circle cx="320.50" cy="158.00" r="0.65" fill="#4a62aa"/>
<circle cx="320.50" cy="166.70" r="0.65" fill="#4a62aa"/>
<line x1="339.80" y1="188.90" x2="339.80" y2="190.90" stroke="#222" stroke-width="0.9"/>
<text x="339.80" y="196.60" font-size="5.2" fill="#222" text-anchor="middle" stroke="#222" stroke-width="0.09">Cebpd</text>
<rect x="332.50" y="156.50" width="6.50" height="32.40" fill="none" stroke="#f23a3f" stroke-width="0.9"/>
<rect x="340.80" y="155.50" width="6.30" height="33.40" fill="none" stroke="#4a62aa" stroke-width="0.9"/>
<line x1="335.80" y1="153.50" x2="335.80" y2="156.50" stroke="#f23a3f" stroke-width="0.8"/>
<line x1="334.50" y1="153.50" x2="337.10" y2="153.50" stroke="#f23a3f" stroke-width="0.8"/>
<line x1="343.90" y1="153.00" x2="343.90" y2="155.50" stroke="#4a62aa" stroke-width="0.8"/>
<line x1="342.60" y1="153.00" x2="345.20" y2="153.00" stroke="#4a62aa" stroke-width="0.8"/>
<circle cx="335.50" cy="151.50" r="0.65" fill="#f23a3f"/>
<circle cx="336.50" cy="152.50" r="0.65" fill="#f23a3f"/>
<circle cx="334.50" cy="155.00" r="0.65" fill="#f23a3f"/>
<circle cx="336.00" cy="157.50" r="0.65" fill="#f23a3f"/>
<circle cx="335.50" cy="160.00" r="0.65" fill="#f23a3f"/>
<circle cx="335.50" cy="167.00" r="0.65" fill="#f23a3f"/>
<circle cx="344.00" cy="137.80" r="0.65" fill="#4a62aa"/>
<circle cx="344.00" cy="151.00" r="0.65" fill="#4a62aa"/>
<circle cx="344.00" cy="158.00" r="0.65" fill="#4a62aa"/>
<circle cx="344.00" cy="171.60" r="0.65" fill="#4a62aa"/>
<circle cx="346.00" cy="171.60" r="0.65" fill="#4a62aa"/>
<line x1="363.50" y1="188.90" x2="363.50" y2="190.90" stroke="#222" stroke-width="0.9"/>
<text x="363.50" y="196.60" font-size="5.2" fill="#222" text-anchor="middle" stroke="#222" stroke-width="0.09">Fbxo32</text>
<rect x="356.20" y="158.84" width="6.50" height="30.06" fill="none" stroke="#f23a3f" stroke-width="0.9"/>
<rect x="364.50" y="155.50" width="6.30" height="33.40" fill="none" stroke="#4a62aa" stroke-width="0.9"/>
<line x1="359.50" y1="155.84" x2="359.50" y2="158.84" stroke="#f23a3f" stroke-width="0.8"/>
<line x1="358.20" y1="155.84" x2="360.80" y2="155.84" stroke="#f23a3f" stroke-width="0.8"/>
<line x1="367.60" y1="153.00" x2="367.60" y2="155.50" stroke="#4a62aa" stroke-width="0.8"/>
<line x1="366.30" y1="153.00" x2="368.90" y2="153.00" stroke="#4a62aa" stroke-width="0.8"/>
<circle cx="359.00" cy="148.50" r="0.65" fill="#f23a3f"/>
<circle cx="360.50" cy="148.50" r="0.65" fill="#f23a3f"/>
<circle cx="359.50" cy="156.00" r="0.65" fill="#f23a3f"/>
<circle cx="358.50" cy="160.00" r="0.65" fill="#f23a3f"/>
<circle cx="360.00" cy="163.00" r="0.65" fill="#f23a3f"/>
<circle cx="359.50" cy="166.00" r="0.65" fill="#f23a3f"/>
<circle cx="368.00" cy="137.00" r="0.65" fill="#4a62aa"/>
<circle cx="368.00" cy="147.00" r="0.65" fill="#4a62aa"/>
<circle cx="367.00" cy="151.00" r="0.65" fill="#4a62aa"/>
<circle cx="369.00" cy="152.00" r="0.65" fill="#4a62aa"/>
<circle cx="367.50" cy="163.00" r="0.65" fill="#4a62aa"/>
<circle cx="369.50" cy="164.00" r="0.65" fill="#4a62aa"/>
<circle cx="368.00" cy="169.50" r="0.65" fill="#4a62aa"/>
<line x1="288.40" y1="133.60" x2="295.00" y2="133.60" stroke="#333" stroke-width="0.8"/>
<text x="291.70" y="133.32" font-size="5.5" fill="#333" text-anchor="middle" stroke="#333" stroke-width="0.25">*</text>
<line x1="350.50" y1="124.80" x2="359.80" y2="124.80" stroke="#4a62aa" stroke-width="1.8"/>
<text x="361.00" y="126.20" font-size="5.5" fill="#222" textLength="12.40" lengthAdjust="spacingAndGlyphs" stroke="#222" stroke-width="0.09">Mexo</text>
<line x1="350.50" y1="130.70" x2="359.80" y2="130.70" stroke="#f23a3f" stroke-width="1.8"/>
<text x="361.00" y="132.10" font-size="5.5" fill="#222" textLength="18.00" lengthAdjust="spacingAndGlyphs" stroke="#222" stroke-width="0.09">Mexo-P</text>
<text x="3.40" y="202.80" font-size="10.3" fill="#1a1a1a" stroke="#1a1a1a" stroke-width="0.35">E</text>
<line x1="54.80" y1="212.50" x2="54.80" y2="286.10" stroke="#444" stroke-width="1.0"/>
<line x1="54.30" y1="285.60" x2="163.20" y2="285.60" stroke="#444" stroke-width="1.0"/>
<line x1="52.20" y1="285.60" x2="54.80" y2="285.60" stroke="#333" stroke-width="0.9"/>
<text x="51.70" y="287.40" font-size="5.0" fill="#333" text-anchor="end" stroke="#333" stroke-width="0.09">0</text>
<line x1="52.20" y1="271.10" x2="54.80" y2="271.10" stroke="#333" stroke-width="0.9"/>
<text x="51.70" y="272.90" font-size="5.0" fill="#333" text-anchor="end" stroke="#333" stroke-width="0.09">2</text>
<line x1="52.20" y1="256.60" x2="54.80" y2="256.60" stroke="#333" stroke-width="0.9"/>
<text x="51.70" y="258.40" font-size="5.0" fill="#333" text-anchor="end" stroke="#333" stroke-width="0.09">4</text>
<line x1="52.20" y1="242.10" x2="54.80" y2="242.10" stroke="#333" stroke-width="0.9"/>
<text x="51.70" y="243.90" font-size="5.0" fill="#333" text-anchor="end" stroke="#333" stroke-width="0.09">6</text>
<line x1="52.20" y1="227.60" x2="54.80" y2="227.60" stroke="#333" stroke-width="0.9"/>
<text x="51.70" y="229.40" font-size="5.0" fill="#333" text-anchor="end" stroke="#333" stroke-width="0.09">8</text>
<line x1="52.20" y1="213.10" x2="54.80" y2="213.10" stroke="#333" stroke-width="0.9"/>
<text x="51.70" y="214.90" font-size="5.0" fill="#333" text-anchor="end" stroke="#333" stroke-width="0.09">10</text>
<text x="34.50" y="255.00" font-size="5.2" fill="#333" text-anchor="middle" textLength="48.30" lengthAdjust="spacingAndGlyphs" transform="rotate(-90 34.50 255.00)" stroke="#333" stroke-width="0.09">Levels of calcification</text>
<text x="40.10" y="251.20" font-size="5.2" fill="#333" text-anchor="middle" textLength="30.50" lengthAdjust="spacingAndGlyphs" transform="rotate(-90 40.10 251.20)" stroke="#333" stroke-width="0.09">(OD 562 nM)</text>
<rect x="63.70" y="227.60" width="15.60" height="58.00" fill="none" stroke="#4a62aa" stroke-width="1.0"/>
<line x1="71.50" y1="285.60" x2="71.50" y2="287.60" stroke="#333" stroke-width="0.9"/>
<line x1="71.50" y1="224.60" x2="71.50" y2="230.60" stroke="#4a62aa" stroke-width="0.8"/>
<line x1="67.50" y1="224.60" x2="75.50" y2="224.60" stroke="#4a62aa" stroke-width="0.8"/>
<line x1="67.50" y1="230.60" x2="75.50" y2="230.60" stroke="#4a62aa" stroke-width="0.8"/>
<circle cx="71.50" cy="221.60" r="0.65" fill="#4a62aa"/>
<circle cx="71.50" cy="224.60" r="0.65" fill="#4a62aa"/>
<circle cx="71.50" cy="228.60" r="0.65" fill="#4a62aa"/>
<circle cx="71.50" cy="234.60" r="0.65" fill="#4a62aa"/>
<rect x="88.60" y="268.20" width="15.60" height="17.40" fill="none" stroke="#f03030" stroke-width="1.0"/>
<line x1="96.40" y1="285.60" x2="96.40" y2="287.60" stroke="#333" stroke-width="0.9"/>
<line x1="96.40" y1="267.60" x2="96.40" y2="268.80" stroke="#f03030" stroke-width="0.8"/>
<line x1="92.40" y1="267.60" x2="100.40" y2="267.60" stroke="#f03030" stroke-width="0.8"/>
<line x1="92.40" y1="268.80" x2="100.40" y2="268.80" stroke="#f03030" stroke-width="0.8"/>
<circle cx="94.40" cy="268.20" r="0.65" fill="#f03030"/>
<circle cx="96.40" cy="267.70" r="0.65" fill="#f03030"/>
<circle cx="98.40" cy="268.50" r="0.65" fill="#f03030"/>
<circle cx="97.40" cy="268.20" r="0.65" fill="#f03030"/>
<rect x="113.70" y="270.38" width="15.60" height="15.23" fill="none" stroke="#707070" stroke-width="1.0"/>
<line x1="121.50" y1="285.60" x2="121.50" y2="287.60" stroke="#333" stroke-width="0.9"/>
<line x1="121.50" y1="269.18" x2="121.50" y2="271.57" stroke="#707070" stroke-width="0.8"/>
<line x1="117.50" y1="269.18" x2="125.50" y2="269.18" stroke="#707070" stroke-width="0.8"/>
<line x1="117.50" y1="271.57" x2="125.50" y2="271.57" stroke="#707070" stroke-width="0.8"/>
<circle cx="121.50" cy="267.38" r="0.65" fill="#707070"/>
<circle cx="120.00" cy="270.38" r="0.65" fill="#707070"/>
<circle cx="123.00" cy="270.88" r="0.65" fill="#707070"/>
<circle cx="121.50" cy="271.88" r="0.65" fill="#707070"/>
<rect x="138.70" y="246.45" width="15.60" height="39.15" fill="none" stroke="#3a3a3a" stroke-width="1.0"/>
<line x1="146.50" y1="285.60" x2="146.50" y2="287.60" stroke="#333" stroke-width="0.9"/>
<line x1="146.50" y1="244.25" x2="146.50" y2="248.65" stroke="#3a3a3a" stroke-width="0.8"/>
<line x1="142.50" y1="244.25" x2="150.50" y2="244.25" stroke="#3a3a3a" stroke-width="0.8"/>
<line x1="142.50" y1="248.65" x2="150.50" y2="248.65" stroke="#3a3a3a" stroke-width="0.8"/>
<circle cx="146.50" cy="243.25" r="0.65" fill="#3a3a3a"/>
<circle cx="146.50" cy="249.75" r="0.65" fill="#3a3a3a"/>
<circle cx="146.50" cy="246.45" r="0.65" fill="#3a3a3a"/>
<circle cx="147.50" cy="247.45" r="0.65" fill="#3a3a3a"/>
<line x1="71.30" y1="216.30" x2="96.20" y2="216.30" stroke="#444" stroke-width="1.0"/>
<text x="83.75" y="214.87" font-size="5.2" fill="#444" text-anchor="middle" stroke="#444" stroke-width="0.09">****</text>
<line x1="121.40" y1="216.30" x2="145.90" y2="216.30" stroke="#444" stroke-width="1.0"/>
<text x="133.65" y="215.07" font-size="5.2" fill="#444" text-anchor="middle" stroke="#444" stroke-width="0.09">****</text>
<text x="61.40" y="296.37" font-size="5.9" fill="#222" text-anchor="end" textLength="23.40" lengthAdjust="spacingAndGlyphs" stroke="#222" stroke-width="0.09">mimic-nc</text>
<text x="71.60" y="296.25" font-size="5.0" fill="#333" text-anchor="middle" stroke="#333" stroke-width="0.09">+</text>
<text x="96.40" y="296.25" font-size="5.0" fill="#333" text-anchor="middle" stroke="#333" stroke-width="0.09">-</text>
<text x="121.30" y="296.25" font-size="5.0" fill="#333" text-anchor="middle" stroke="#333" stroke-width="0.09">-</text>
<text x="147.00" y="296.25" font-size="5.0" fill="#333" text-anchor="middle" stroke="#333" stroke-width="0.09">-</text>
<text x="61.40" y="304.07" font-size="5.9" fill="#222" text-anchor="end" textLength="42.70" lengthAdjust="spacingAndGlyphs" stroke="#222" stroke-width="0.09">Let-7b-5p mimic</text>
<text x="71.60" y="303.95" font-size="5.0" fill="#333" text-anchor="middle" stroke="#333" stroke-width="0.09">-</text>
<text x="96.40" y="303.95" font-size="5.0" fill="#333" text-anchor="middle" stroke="#333" stroke-width="0.09">+</text>
<text x="121.30" y="303.95" font-size="5.0" fill="#333" text-anchor="middle" stroke="#333" stroke-width="0.09">+</text>
<text x="147.00" y="303.95" font-size="5.0" fill="#333" text-anchor="middle" stroke="#333" stroke-width="0.09">+</text>
<text x="59.60" y="311.87" font-size="5.9" fill="#222" text-anchor="end" textLength="7.40" lengthAdjust="spacingAndGlyphs" stroke="#222" stroke-width="0.09">EV</text>
<text x="71.60" y="311.75" font-size="5.0" fill="#333" text-anchor="middle" stroke="#333" stroke-width="0.09">-</text>
<text x="96.40" y="311.75" font-size="5.0" fill="#333" text-anchor="middle" stroke="#333" stroke-width="0.09">-</text>
<text x="121.30" y="311.75" font-size="5.0" fill="#333" text-anchor="middle" stroke="#333" stroke-width="0.09">+</text>
<text x="147.00" y="311.75" font-size="5.0" fill="#333" text-anchor="middle" stroke="#333" stroke-width="0.09">-</text>
<text x="61.40" y="319.47" font-size="5.9" fill="#222" text-anchor="end" textLength="32.50" lengthAdjust="spacingAndGlyphs" stroke="#222" stroke-width="0.09">TGFBR1-OE</text>
<text x="71.60" y="319.35" font-size="5.0" fill="#333" text-anchor="middle" stroke="#333" stroke-width="0.09">+</text>
<text x="96.40" y="319.35" font-size="5.0" fill="#333" text-anchor="middle" stroke="#333" stroke-width="0.09">-</text>
<text x="121.30" y="319.35" font-size="5.0" fill="#333" text-anchor="middle" stroke="#333" stroke-width="0.09">-</text>
<text x="147.00" y="319.35" font-size="5.0" fill="#333" text-anchor="middle" stroke="#333" stroke-width="0.09">+</text>
<rect x="58.20" y="323.50" width="24.60" height="25.10" fill="#ecebea" stroke="none" stroke-width="1"/>
<path d="M58.20 328.50 L58.20 323.50 L62.20 323.50" fill="none" stroke="#a9a4a2" stroke-width="0.9"/>
<path d="M79.80 323.50 L82.80 323.50 L82.80 328.50" fill="none" stroke="#a9a4a2" stroke-width="0.9"/>
<path d="M58.20 344.60 L58.20 348.60 L62.20 348.60" fill="none" stroke="#a9a4a2" stroke-width="0.9"/>
<path d="M79.80 348.60 L82.80 348.60 L82.80 344.60" fill="none" stroke="#a9a4a2" stroke-width="0.9"/>
<radialGradient id="w1"><stop offset="0" stop-color="#cf2a24"/><stop offset="0.5" stop-color="#dd3229"/><stop offset="0.85" stop-color="#e93c32"/><stop offset="1" stop-color="#ee4e44"/></radialGradient>
<circle cx="70.70" cy="336.20" r="11.80" fill="url(#w1)"/>
<circle cx="75.70" cy="329.20" r="1.30" fill="#f6c0b8" opacity="0.4"/>
<circle cx="77.70" cy="331.20" r="1.00" fill="#f6d0c8" opacity="0.4"/>
<circle cx="73.70" cy="327.20" r="0.90" fill="#f8d8d0" opacity="0.4"/>
<circle cx="78.70" cy="334.20" r="0.80" fill="#f3b0a8" opacity="0.4"/>
<circle cx="64.70" cy="343.20" r="0.90" fill="#f3a8a0" opacity="0.4"/>
<rect x="83.80" y="323.50" width="25.40" height="25.10" fill="#eceae9" stroke="none" stroke-width="1"/>
<path d="M83.80 328.50 L83.80 323.50 L87.80 323.50" fill="none" stroke="#a9a4a2" stroke-width="0.9"/>
<path d="M106.20 323.50 L109.20 323.50 L109.20 328.50" fill="none" stroke="#a9a4a2" stroke-width="0.9"/>
<path d="M83.80 344.60 L83.80 348.60 L87.80 348.60" fill="none" stroke="#a9a4a2" stroke-width="0.9"/>
<path d="M106.20 348.60 L109.20 348.60 L109.20 344.60" fill="none" stroke="#a9a4a2" stroke-width="0.9"/>
<radialGradient id="w2"><stop offset="0" stop-color="#e6e2e2"/><stop offset="0.85" stop-color="#dfdada"/><stop offset="0.95" stop-color="#ecbcb8"/><stop offset="1" stop-color="#f08c86"/></radialGradient>
<circle cx="96.00" cy="336.40" r="11.30" fill="url(#w2)"/>
<circle cx="93.00" cy="326.40" r="1.60" fill="#f04a40" opacity="0.4"/>
<circle cx="95.00" cy="326.10" r="1.20" fill="#f04a40" opacity="0.4"/>
<rect x="110.70" y="323.50" width="24.80" height="25.10" fill="#e6dddd" stroke="none" stroke-width="1"/>
<path d="M110.70 344.60 L110.70 348.60 L114.70 348.60" fill="none" stroke="#a9a4a2" stroke-width="0.9"/>
<path d="M132.50 348.60 L135.50 348.60 L135.50 344.60" fill="none" stroke="#a9a4a2" stroke-width="0.9"/>
<radialGradient id="w3"><stop offset="0" stop-color="#dfd4d4"/><stop offset="0.7" stop-color="#d8cbcb"/><stop offset="0.92" stop-color="#d2c3c3"/><stop offset="1" stop-color="#dccfcf"/></radialGradient>
<circle cx="122.80" cy="336.40" r="12.00" fill="url(#w3)"/>
<rect x="137.30" y="323.60" width="25.20" height="24.80" fill="#ebe8e7" stroke="none" stroke-width="1"/>
<path d="M137.30 328.60 L137.30 323.60 L141.30 323.60" fill="none" stroke="#a9a4a2" stroke-width="0.9"/>
<path d="M159.50 323.60 L162.50 323.60 L162.50 328.60" fill="none" stroke="#a9a4a2" stroke-width="0.9"/>
<path d="M137.30 344.40 L137.30 348.40 L141.30 348.40" fill="none" stroke="#a9a4a2" stroke-width="0.9"/>
<path d="M159.50 348.40 L162.50 348.40 L162.50 344.40" fill="none" stroke="#a9a4a2" stroke-width="0.9"/>
<radialGradient id="w4"><stop offset="0" stop-color="#f7bcb5"/><stop offset="0.45" stop-color="#f4a098"/><stop offset="0.75" stop-color="#f2887f"/><stop offset="0.9" stop-color="#f4a59d"/><stop offset="1" stop-color="#f3c6bf"/></radialGradient>
<circle cx="149.70" cy="336.20" r="11.60" fill="url(#w4)"/>
<circle cx="146.70" cy="332.20" r="1.20" fill="#fbe0dc" opacity="0.4"/>
<circle cx="151.70" cy="330.20" r="1.00" fill="#fbe0dc" opacity="0.4"/>
<circle cx="153.70" cy="338.20" r="1.10" fill="#fbd8d2" opacity="0.4"/>
<circle cx="144.70" cy="339.20" r="1.00" fill="#fbd8d2" opacity="0.4"/>
<circle cx="149.70" cy="342.20" r="0.90" fill="#fbe0dc" opacity="0.4"/>
<text x="175.70" y="202.60" font-size="10.3" fill="#1a1a1a" stroke="#1a1a1a" stroke-width="0.35">F</text>
<line x1="239.90" y1="212.50" x2="239.90" y2="286.60" stroke="#444" stroke-width="1.0"/>
<line x1="239.40" y1="286.10" x2="351.40" y2="286.10" stroke="#444" stroke-width="1.0"/>
<line x1="237.30" y1="286.10" x2="239.90" y2="286.10" stroke="#333" stroke-width="0.9"/>
<text x="236.80" y="287.90" font-size="5.0" fill="#333" text-anchor="end" stroke="#333" stroke-width="0.09">0</text>
<line x1="237.30" y1="271.60" x2="239.90" y2="271.60" stroke="#333" stroke-width="0.9"/>
<text x="236.80" y="273.40" font-size="5.0" fill="#333" text-anchor="end" stroke="#333" stroke-width="0.09">2</text>
<line x1="237.30" y1="257.10" x2="239.90" y2="257.10" stroke="#333" stroke-width="0.9"/>
<text x="236.80" y="258.90" font-size="5.0" fill="#333" text-anchor="end" stroke="#333" stroke-width="0.09">4</text>
<line x1="237.30" y1="242.60" x2="239.90" y2="242.60" stroke="#333" stroke-width="0.9"/>
<text x="236.80" y="244.40" font-size="5.0" fill="#333" text-anchor="end" stroke="#333" stroke-width="0.09">6</text>
<line x1="237.30" y1="228.10" x2="239.90" y2="228.10" stroke="#333" stroke-width="0.9"/>
<text x="236.80" y="229.90" font-size="5.0" fill="#333" text-anchor="end" stroke="#333" stroke-width="0.09">8</text>
<line x1="237.30" y1="213.60" x2="239.90" y2="213.60" stroke="#333" stroke-width="0.9"/>
<text x="236.80" y="215.40" font-size="5.0" fill="#333" text-anchor="end" stroke="#333" stroke-width="0.09">10</text>
<text x="220.90" y="255.80" font-size="5.2" fill="#333" text-anchor="middle" textLength="48.60" lengthAdjust="spacingAndGlyphs" transform="rotate(-90 220.90 255.80)" stroke="#333" stroke-width="0.09">Levels of calcification</text>
<text x="226.60" y="252.30" font-size="5.2" fill="#333" text-anchor="middle" textLength="29.50" lengthAdjust="spacingAndGlyphs" transform="rotate(-90 226.60 252.30)" stroke="#333" stroke-width="0.09">(OD 562 nM)</text>
<rect x="249.80" y="260.00" width="15.40" height="26.10" fill="none" stroke="#4a62aa" stroke-width="1.0"/>
<line x1="257.50" y1="286.10" x2="257.50" y2="288.10" stroke="#333" stroke-width="0.9"/>
<line x1="257.50" y1="257.50" x2="257.50" y2="262.50" stroke="#4a62aa" stroke-width="0.8"/>
<line x1="253.50" y1="257.50" x2="261.50" y2="257.50" stroke="#4a62aa" stroke-width="0.8"/>
<line x1="253.50" y1="262.50" x2="261.50" y2="262.50" stroke="#4a62aa" stroke-width="0.8"/>
<circle cx="256.70" cy="253.70" r="0.65" fill="#4a62aa"/>
<circle cx="258.00" cy="255.70" r="0.65" fill="#4a62aa"/>
<circle cx="256.50" cy="262.70" r="0.65" fill="#4a62aa"/>
<circle cx="258.50" cy="264.20" r="0.65" fill="#4a62aa"/>
<rect x="275.50" y="234.63" width="14.80" height="51.47" fill="none" stroke="#f56a6f" stroke-width="1.6"/>
<line x1="282.90" y1="286.10" x2="282.90" y2="288.10" stroke="#333" stroke-width="0.9"/>
<line x1="282.90" y1="231.63" x2="282.90" y2="237.63" stroke="#f23a3f" stroke-width="0.8"/>
<line x1="278.90" y1="231.63" x2="286.90" y2="231.63" stroke="#f23a3f" stroke-width="0.8"/>
<line x1="278.90" y1="237.63" x2="286.90" y2="237.63" stroke="#f23a3f" stroke-width="0.8"/>
<circle cx="282.90" cy="223.73" r="0.65" fill="#f23a3f"/>
<circle cx="282.90" cy="230.63" r="0.65" fill="#f23a3f"/>
<circle cx="282.90" cy="236.63" r="0.65" fill="#f23a3f"/>
<circle cx="282.90" cy="239.63" r="0.65" fill="#f23a3f"/>
<rect x="300.50" y="239.70" width="15.40" height="46.40" fill="none" stroke="#707070" stroke-width="1.0"/>
<line x1="308.20" y1="286.10" x2="308.20" y2="288.10" stroke="#333" stroke-width="0.9"/>
<line x1="308.20" y1="237.00" x2="308.20" y2="242.40" stroke="#707070" stroke-width="0.8"/>
<line x1="304.20" y1="237.00" x2="312.20" y2="237.00" stroke="#707070" stroke-width="0.8"/>
<line x1="304.20" y1="242.40" x2="312.20" y2="242.40" stroke="#707070" stroke-width="0.8"/>
<circle cx="308.20" cy="233.40" r="0.65" fill="#707070"/>
<circle cx="308.20" cy="249.90" r="0.65" fill="#707070"/>
<rect x="325.90" y="252.75" width="15.40" height="33.35" fill="none" stroke="#3a3a3a" stroke-width="1.0"/>
<line x1="333.60" y1="286.10" x2="333.60" y2="288.10" stroke="#333" stroke-width="0.9"/>
<line x1="333.60" y1="250.75" x2="333.60" y2="254.75" stroke="#3a3a3a" stroke-width="0.8"/>
<line x1="329.60" y1="250.75" x2="337.60" y2="250.75" stroke="#3a3a3a" stroke-width="0.8"/>
<line x1="329.60" y1="254.75" x2="337.60" y2="254.75" stroke="#3a3a3a" stroke-width="0.8"/>
<circle cx="333.60" cy="249.05" r="0.65" fill="#3a3a3a"/>
<circle cx="331.20" cy="250.45" r="0.65" fill="#3a3a3a"/>
<circle cx="335.70" cy="250.45" r="0.65" fill="#3a3a3a"/>
<circle cx="333.60" cy="256.45" r="0.65" fill="#3a3a3a"/>
<line x1="258.10" y1="214.20" x2="282.30" y2="214.20" stroke="#444" stroke-width="1.0"/>
<text x="270.20" y="212.97" font-size="5.2" fill="#444" text-anchor="middle" stroke="#444" stroke-width="0.09">****</text>
<line x1="308.90" y1="214.20" x2="333.40" y2="214.20" stroke="#444" stroke-width="1.0"/>
<text x="321.15" y="212.97" font-size="5.2" fill="#444" text-anchor="middle" stroke="#444" stroke-width="0.09">**</text>
<text x="254.10" y="297.37" font-size="5.9" fill="#222" text-anchor="end" textLength="48.70" lengthAdjust="spacingAndGlyphs" stroke="#222" stroke-width="0.09">Let-7b-5p-inhibitor</text>
<text x="258.80" y="297.25" font-size="5.0" fill="#333" text-anchor="middle" stroke="#333" stroke-width="0.09">+</text>
<text x="283.10" y="297.25" font-size="5.0" fill="#333" text-anchor="middle" stroke="#333" stroke-width="0.09">-</text>
<text x="309.20" y="297.25" font-size="5.0" fill="#333" text-anchor="middle" stroke="#333" stroke-width="0.09">-</text>
<text x="334.50" y="297.25" font-size="5.0" fill="#333" text-anchor="middle" stroke="#333" stroke-width="0.09">-</text>
<text x="251.10" y="305.67" font-size="5.9" fill="#222" text-anchor="end" textLength="29.80" lengthAdjust="spacingAndGlyphs" stroke="#222" stroke-width="0.09">Inhibitor-nc</text>
<text x="258.80" y="305.55" font-size="5.0" fill="#333" text-anchor="middle" stroke="#333" stroke-width="0.09">-</text>
<text x="283.10" y="305.55" font-size="5.0" fill="#333" text-anchor="middle" stroke="#333" stroke-width="0.09">+</text>
<text x="309.20" y="305.55" font-size="5.0" fill="#333" text-anchor="middle" stroke="#333" stroke-width="0.09">+</text>
<text x="334.50" y="305.55" font-size="5.0" fill="#333" text-anchor="middle" stroke="#333" stroke-width="0.09">+</text>
<text x="251.10" y="312.67" font-size="5.9" fill="#222" text-anchor="end" textLength="13.20" lengthAdjust="spacingAndGlyphs" stroke="#222" stroke-width="0.09">Si-nc</text>
<text x="258.80" y="312.55" font-size="5.0" fill="#333" text-anchor="middle" stroke="#333" stroke-width="0.09">-</text>
<text x="283.10" y="312.55" font-size="5.0" fill="#333" text-anchor="middle" stroke="#333" stroke-width="0.09">-</text>
<text x="309.20" y="312.55" font-size="5.0" fill="#333" text-anchor="middle" stroke="#333" stroke-width="0.09">+</text>
<text x="334.50" y="312.55" font-size="5.0" fill="#333" text-anchor="middle" stroke="#333" stroke-width="0.09">-</text>
<text x="251.40" y="320.97" font-size="5.9" fill="#222" text-anchor="end" textLength="29.80" lengthAdjust="spacingAndGlyphs" stroke="#222" stroke-width="0.09">TGFBR1-Si</text>
<text x="258.80" y="320.85" font-size="5.0" fill="#333" text-anchor="middle" stroke="#333" stroke-width="0.09">+</text>
<text x="283.10" y="320.85" font-size="5.0" fill="#333" text-anchor="middle" stroke="#333" stroke-width="0.09">-</text>
<text x="309.20" y="320.85" font-size="5.0" fill="#333" text-anchor="middle" stroke="#333" stroke-width="0.09">-</text>
<text x="334.50" y="320.85" font-size="5.0" fill="#333" text-anchor="middle" stroke="#333" stroke-width="0.09">+</text>
<rect x="243.90" y="326.30" width="25.50" height="25.10" fill="#efedec" stroke="none" stroke-width="1"/>
<path d="M243.90 331.30 L243.90 326.30 L247.90 326.30" fill="none" stroke="#a9a4a2" stroke-width="0.9"/>
<path d="M266.40 326.30 L269.40 326.30 L269.40 331.30" fill="none" stroke="#a9a4a2" stroke-width="0.9"/>
<path d="M243.90 347.40 L243.90 351.40 L247.90 351.40" fill="none" stroke="#a9a4a2" stroke-width="0.9"/>
<radialGradient id="w5"><stop offset="0" stop-color="#f7c8c2"/><stop offset="0.5" stop-color="#f5b8b0"/><stop offset="0.82" stop-color="#f3a49c"/><stop offset="0.95" stop-color="#ee8a82"/><stop offset="1" stop-color="#f2aaa2"/></radialGradient>
<circle cx="256.60" cy="339.00" r="12.00" fill="url(#w5)"/>
<rect x="270.20" y="326.30" width="25.50" height="25.10" fill="#f0e4e2" stroke="none" stroke-width="1"/>
<path d="M292.70 326.30 L295.70 326.30 L295.70 331.30" fill="none" stroke="#a9a4a2" stroke-width="0.9"/>
<radialGradient id="w6"><stop offset="0" stop-color="#ee2a22"/><stop offset="0.8" stop-color="#f02c24"/><stop offset="1" stop-color="#e8302a"/></radialGradient>
<circle cx="282.90" cy="339.00" r="12.00" fill="url(#w6)"/>
<rect x="297.30" y="326.30" width="26.30" height="25.10" fill="#ecebea" stroke="none" stroke-width="1"/>
<path d="M297.30 331.30 L297.30 326.30 L301.30 326.30" fill="none" stroke="#a9a4a2" stroke-width="0.9"/>
<path d="M320.60 326.30 L323.60 326.30 L323.60 331.30" fill="none" stroke="#a9a4a2" stroke-width="0.9"/>
<path d="M320.60 351.40 L323.60 351.40 L323.60 347.40" fill="none" stroke="#a9a4a2" stroke-width="0.9"/>
<radialGradient id="w7"><stop offset="0" stop-color="#c93430"/><stop offset="0.5" stop-color="#dc3f38"/><stop offset="0.85" stop-color="#e94c44"/><stop offset="1" stop-color="#e85a52"/></radialGradient>
<circle cx="310.50" cy="339.00" r="12.30" fill="url(#w7)"/>
<rect x="324.40" y="326.30" width="26.30" height="25.10" fill="#efedec" stroke="none" stroke-width="1"/>
<path d="M347.70 351.40 L350.70 351.40 L350.70 347.40" fill="none" stroke="#a9a4a2" stroke-width="0.9"/>
<radialGradient id="w8"><stop offset="0" stop-color="#f8ccc6"/><stop offset="0.55" stop-color="#f6b8b0"/><stop offset="0.85" stop-color="#f3a098"/><stop offset="1" stop-color="#f08e86"/></radialGradient>
<circle cx="337.90" cy="339.00" r="12.00" fill="url(#w8)"/>
<circle cx="334.90" cy="335.00" r="1.20" fill="#fde8e4" opacity="0.4"/>
<circle cx="339.90" cy="333.00" r="1.00" fill="#fde8e4" opacity="0.4"/>
<circle cx="341.90" cy="341.00" r="1.10" fill="#fde0dc" opacity="0.4"/>
<circle cx="332.90" cy="342.00" r="1.00" fill="#fde0dc" opacity="0.4"/>
<circle cx="337.90" cy="345.00" r="0.90" fill="#fde8e4" opacity="0.4"/>
<text x="12.40" y="360.60" font-size="10.3" fill="#1a1a1a" stroke="#1a1a1a" stroke-width="0.35">G</text>
<line x1="61.50" y1="366.00" x2="61.50" y2="437.90" stroke="#555" stroke-width="1.3"/>
<line x1="61.00" y1="437.30" x2="108.50" y2="437.30" stroke="#555" stroke-width="1.3"/>
<line x1="59.10" y1="437.30" x2="61.50" y2="437.30" stroke="#333" stroke-width="0.9"/>
<text x="58.60" y="439.10" font-size="5.0" fill="#333" text-anchor="end" stroke="#333" stroke-width="0.09">0</text>
<line x1="59.10" y1="419.60" x2="61.50" y2="419.60" stroke="#333" stroke-width="0.9"/>
<text x="58.60" y="421.40" font-size="5.0" fill="#333" text-anchor="end" stroke="#333" stroke-width="0.09">50</text>
<line x1="59.10" y1="401.90" x2="61.50" y2="401.90" stroke="#333" stroke-width="0.9"/>
<text x="58.60" y="403.70" font-size="5.0" fill="#333" text-anchor="end" stroke="#333" stroke-width="0.09">100</text>
<line x1="59.10" y1="384.20" x2="61.50" y2="384.20" stroke="#333" stroke-width="0.9"/>
<text x="58.60" y="386.00" font-size="5.0" fill="#333" text-anchor="end" stroke="#333" stroke-width="0.09">150</text>
<line x1="59.10" y1="366.50" x2="61.50" y2="366.50" stroke="#333" stroke-width="0.9"/>
<text x="58.60" y="368.30" font-size="5.0" fill="#333" text-anchor="end" stroke="#333" stroke-width="0.09">200</text>
<text x="38.90" y="405.70" font-size="5.2" fill="#333" text-anchor="middle" textLength="37.10" lengthAdjust="spacingAndGlyphs" transform="rotate(-90 38.90 405.70)" stroke="#333" stroke-width="0.09">Calcium content</text>
<text x="45.00" y="405.10" font-size="5.2" fill="#333" text-anchor="middle" textLength="30.60" lengthAdjust="spacingAndGlyphs" transform="rotate(-90 45.00 405.10)" stroke="#333" stroke-width="0.09">(ug/mg prot.)</text>
<rect x="65.35" y="375.00" width="6.90" height="62.30" fill="none" stroke="#4a62aa" stroke-width="0.9"/>
<line x1="68.80" y1="437.30" x2="68.80" y2="439.30" stroke="#333" stroke-width="0.9"/>
<line x1="68.80" y1="373.00" x2="68.80" y2="377.00" stroke="#4a62aa" stroke-width="0.8"/>
<line x1="66.80" y1="373.00" x2="70.80" y2="373.00" stroke="#4a62aa" stroke-width="0.8"/>
<line x1="66.80" y1="377.00" x2="70.80" y2="377.00" stroke="#4a62aa" stroke-width="0.8"/>
<circle cx="69.00" cy="371.20" r="0.60" fill="#4a62aa"/>
<circle cx="68.00" cy="373.80" r="0.60" fill="#4a62aa"/>
<circle cx="70.00" cy="375.80" r="0.60" fill="#4a62aa"/>
<circle cx="69.50" cy="380.30" r="0.60" fill="#4a62aa"/>
<rect x="76.45" y="427.03" width="6.90" height="10.27" fill="none" stroke="#f23a3f" stroke-width="0.9"/>
<line x1="79.90" y1="437.30" x2="79.90" y2="439.30" stroke="#333" stroke-width="0.9"/>
<line x1="79.90" y1="426.03" x2="79.90" y2="428.03" stroke="#f23a3f" stroke-width="0.8"/>
<line x1="77.90" y1="426.03" x2="81.90" y2="426.03" stroke="#f23a3f" stroke-width="0.8"/>
<line x1="77.90" y1="428.03" x2="81.90" y2="428.03" stroke="#f23a3f" stroke-width="0.8"/>
<circle cx="79.90" cy="424.73" r="0.60" fill="#f23a3f"/>
<circle cx="81.40" cy="425.73" r="0.60" fill="#f23a3f"/>
<circle cx="78.40" cy="427.23" r="0.60" fill="#f23a3f"/>
<rect x="87.65" y="425.97" width="6.90" height="11.33" fill="none" stroke="#707070" stroke-width="0.9"/>
<line x1="91.10" y1="437.30" x2="91.10" y2="439.30" stroke="#333" stroke-width="0.9"/>
<line x1="91.10" y1="423.97" x2="91.10" y2="427.97" stroke="#707070" stroke-width="0.8"/>
<line x1="89.10" y1="423.97" x2="93.10" y2="423.97" stroke="#707070" stroke-width="0.8"/>
<line x1="89.10" y1="427.97" x2="93.10" y2="427.97" stroke="#707070" stroke-width="0.8"/>
<circle cx="91.10" cy="422.47" r="0.60" fill="#707070"/>
<circle cx="89.60" cy="424.97" r="0.60" fill="#707070"/>
<circle cx="92.60" cy="423.97" r="0.60" fill="#707070"/>
<circle cx="91.10" cy="428.97" r="0.60" fill="#707070"/>
<rect x="98.35" y="394.82" width="6.90" height="42.48" fill="none" stroke="#3a3a3a" stroke-width="0.9"/>
<line x1="101.80" y1="437.30" x2="101.80" y2="439.30" stroke="#333" stroke-width="0.9"/>
<line x1="101.80" y1="393.32" x2="101.80" y2="396.32" stroke="#3a3a3a" stroke-width="0.8"/>
<line x1="98.80" y1="393.32" x2="104.80" y2="393.32" stroke="#3a3a3a" stroke-width="0.8"/>
<line x1="98.80" y1="396.32" x2="104.80" y2="396.32" stroke="#3a3a3a" stroke-width="0.8"/>
<circle cx="101.80" cy="392.62" r="0.60" fill="#3a3a3a"/>
<circle cx="101.80" cy="396.62" r="0.60" fill="#3a3a3a"/>
<line x1="69.70" y1="362.40" x2="79.70" y2="362.40" stroke="#555" stroke-width="1.3"/>
<text x="74.70" y="360.96" font-size="5.0" fill="#555" text-anchor="middle" stroke="#555" stroke-width="0.09">****</text>
<line x1="91.30" y1="362.40" x2="101.40" y2="362.40" stroke="#555" stroke-width="1.3"/>
<text x="96.35" y="360.96" font-size="5.0" fill="#555" text-anchor="middle" stroke="#555" stroke-width="0.09">****</text>
<text x="64.00" y="447.87" font-size="5.9" fill="#222" text-anchor="end" textLength="24.00" lengthAdjust="spacingAndGlyphs" stroke="#222" stroke-width="0.09">mimic-nc</text>
<text x="69.10" y="447.75" font-size="5.0" fill="#333" text-anchor="middle" stroke="#333" stroke-width="0.09">+</text>
<text x="80.70" y="447.75" font-size="5.0" fill="#333" text-anchor="middle" stroke="#333" stroke-width="0.09">-</text>
<text x="90.50" y="447.75" font-size="5.0" fill="#333" text-anchor="middle" stroke="#333" stroke-width="0.09">-</text>
<text x="102.60" y="447.75" font-size="5.0" fill="#333" text-anchor="middle" stroke="#333" stroke-width="0.09">-</text>
<text x="64.00" y="455.57" font-size="5.9" fill="#222" text-anchor="end" textLength="43.30" lengthAdjust="spacingAndGlyphs" stroke="#222" stroke-width="0.09">Let-7b-5p-mimic</text>
<text x="69.10" y="455.45" font-size="5.0" fill="#333" text-anchor="middle" stroke="#333" stroke-width="0.09">-</text>
<text x="80.70" y="455.45" font-size="5.0" fill="#333" text-anchor="middle" stroke="#333" stroke-width="0.09">+</text>
<text x="90.50" y="455.45" font-size="5.0" fill="#333" text-anchor="middle" stroke="#333" stroke-width="0.09">+</text>
<text x="102.60" y="455.45" font-size="5.0" fill="#333" text-anchor="middle" stroke="#333" stroke-width="0.09">+</text>
<text x="62.50" y="463.77" font-size="5.9" fill="#222" text-anchor="end" textLength="8.80" lengthAdjust="spacingAndGlyphs" stroke="#222" stroke-width="0.09">EV</text>
<text x="69.10" y="463.65" font-size="5.0" fill="#333" text-anchor="middle" stroke="#333" stroke-width="0.09">-</text>
<text x="80.70" y="463.65" font-size="5.0" fill="#333" text-anchor="middle" stroke="#333" stroke-width="0.09">-</text>
<text x="90.50" y="463.65" font-size="5.0" fill="#333" text-anchor="middle" stroke="#333" stroke-width="0.09">+</text>
<text x="102.60" y="463.65" font-size="5.0" fill="#333" text-anchor="middle" stroke="#333" stroke-width="0.09">-</text>
<text x="64.00" y="471.97" font-size="5.9" fill="#222" text-anchor="end" textLength="33.00" lengthAdjust="spacingAndGlyphs" stroke="#222" stroke-width="0.09">TGFBR1-OE</text>
<text x="69.10" y="471.85" font-size="5.0" fill="#333" text-anchor="middle" stroke="#333" stroke-width="0.09">+</text>
<text x="80.70" y="471.85" font-size="5.0" fill="#333" text-anchor="middle" stroke="#333" stroke-width="0.09">-</text>
<text x="90.50" y="471.85" font-size="5.0" fill="#333" text-anchor="middle" stroke="#333" stroke-width="0.09">-</text>
<text x="102.60" y="471.85" font-size="5.0" fill="#333" text-anchor="middle" stroke="#333" stroke-width="0.09">+</text>
<text x="122.90" y="364.90" font-size="10.3" fill="#1a1a1a" stroke="#1a1a1a" stroke-width="0.35">H</text>
<line x1="156.20" y1="369.80" x2="156.20" y2="440.90" stroke="#333" stroke-width="1.0"/>
<line x1="155.70" y1="440.30" x2="204.00" y2="440.30" stroke="#333" stroke-width="1.0"/>
<line x1="153.80" y1="440.30" x2="156.20" y2="440.30" stroke="#333" stroke-width="0.9"/>
<text x="153.30" y="442.10" font-size="5.0" fill="#333" text-anchor="end" stroke="#333" stroke-width="0.09">0</text>
<line x1="153.80" y1="422.85" x2="156.20" y2="422.85" stroke="#333" stroke-width="0.9"/>
<text x="153.30" y="424.65" font-size="5.0" fill="#333" text-anchor="end" stroke="#333" stroke-width="0.09">50</text>
<line x1="153.80" y1="405.40" x2="156.20" y2="405.40" stroke="#333" stroke-width="0.9"/>
<text x="153.30" y="407.20" font-size="5.0" fill="#333" text-anchor="end" stroke="#333" stroke-width="0.09">100</text>
<line x1="153.80" y1="387.95" x2="156.20" y2="387.95" stroke="#333" stroke-width="0.9"/>
<text x="153.30" y="389.75" font-size="5.0" fill="#333" text-anchor="end" stroke="#333" stroke-width="0.09">150</text>
<line x1="153.80" y1="370.50" x2="156.20" y2="370.50" stroke="#333" stroke-width="0.9"/>
<text x="153.30" y="372.30" font-size="5.0" fill="#333" text-anchor="end" stroke="#333" stroke-width="0.09">200</text>
<text x="134.30" y="409.00" font-size="5.2" fill="#333" text-anchor="middle" textLength="38.20" lengthAdjust="spacingAndGlyphs" transform="rotate(-90 134.30 409.00)" stroke="#333" stroke-width="0.09">Calcium content</text>
<text x="140.40" y="408.20" font-size="5.2" fill="#333" text-anchor="middle" textLength="31.00" lengthAdjust="spacingAndGlyphs" transform="rotate(-90 140.40 408.20)" stroke="#333" stroke-width="0.09">(ug/mg prot.)</text>
<rect x="160.95" y="407.14" width="6.90" height="33.16" fill="none" stroke="#4a62aa" stroke-width="0.9"/>
<line x1="164.40" y1="440.30" x2="164.40" y2="442.30" stroke="#333" stroke-width="0.9"/>
<line x1="164.40" y1="405.64" x2="164.40" y2="408.64" stroke="#4a62aa" stroke-width="0.8"/>
<line x1="162.40" y1="405.64" x2="166.40" y2="405.64" stroke="#4a62aa" stroke-width="0.8"/>
<line x1="162.40" y1="408.64" x2="166.40" y2="408.64" stroke="#4a62aa" stroke-width="0.8"/>
<circle cx="163.70" cy="404.25" r="0.60" fill="#4a62aa"/>
<circle cx="163.70" cy="407.54" r="0.60" fill="#4a62aa"/>
<circle cx="163.70" cy="410.04" r="0.60" fill="#4a62aa"/>
<rect x="171.15" y="391.44" width="6.90" height="48.86" fill="none" stroke="#f23a3f" stroke-width="0.9"/>
<line x1="174.60" y1="440.30" x2="174.60" y2="442.30" stroke="#333" stroke-width="0.9"/>
<line x1="174.60" y1="387.94" x2="174.60" y2="394.94" stroke="#f23a3f" stroke-width="0.8"/>
<line x1="172.60" y1="387.94" x2="176.60" y2="387.94" stroke="#f23a3f" stroke-width="0.8"/>
<line x1="172.60" y1="394.94" x2="176.60" y2="394.94" stroke="#f23a3f" stroke-width="0.8"/>
<circle cx="174.40" cy="381.54" r="0.60" fill="#f23a3f"/>
<circle cx="174.40" cy="387.64" r="0.60" fill="#f23a3f"/>
<circle cx="174.40" cy="394.94" r="0.60" fill="#f23a3f"/>
<circle cx="174.40" cy="397.94" r="0.60" fill="#f23a3f"/>
<rect x="181.85" y="387.25" width="6.90" height="53.05" fill="none" stroke="#8a8080" stroke-width="0.9"/>
<line x1="185.30" y1="440.30" x2="185.30" y2="442.30" stroke="#333" stroke-width="0.9"/>
<line x1="185.30" y1="385.25" x2="185.30" y2="389.25" stroke="#8a8080" stroke-width="0.8"/>
<line x1="183.30" y1="385.25" x2="187.30" y2="385.25" stroke="#8a8080" stroke-width="0.8"/>
<line x1="183.30" y1="389.25" x2="187.30" y2="389.25" stroke="#8a8080" stroke-width="0.8"/>
<circle cx="185.00" cy="381.45" r="0.60" fill="#8a8080"/>
<circle cx="184.50" cy="385.85" r="0.60" fill="#8a8080"/>
<circle cx="186.00" cy="386.35" r="0.60" fill="#8a8080"/>
<circle cx="185.00" cy="392.35" r="0.60" fill="#8a8080"/>
<rect x="192.35" y="403.66" width="6.90" height="36.64" fill="none" stroke="#555" stroke-width="0.9"/>
<line x1="195.80" y1="440.30" x2="195.80" y2="442.30" stroke="#333" stroke-width="0.9"/>
<line x1="195.80" y1="401.66" x2="195.80" y2="405.66" stroke="#222" stroke-width="0.8"/>
<line x1="193.80" y1="401.66" x2="197.80" y2="401.66" stroke="#222" stroke-width="0.8"/>
<line x1="193.80" y1="405.66" x2="197.80" y2="405.66" stroke="#222" stroke-width="0.8"/>
<circle cx="195.50" cy="401.26" r="0.60" fill="#222"/>
<circle cx="196.50" cy="402.06" r="0.60" fill="#222"/>
<circle cx="195.50" cy="407.56" r="0.60" fill="#222"/>
<line x1="164.00" y1="373.20" x2="174.40" y2="373.20" stroke="#333" stroke-width="1.0"/>
<text x="169.20" y="371.56" font-size="5.0" fill="#333" text-anchor="middle" stroke="#333" stroke-width="0.09">**</text>
<line x1="185.40" y1="373.20" x2="195.90" y2="373.20" stroke="#333" stroke-width="1.0"/>
<text x="190.65" y="371.56" font-size="5.0" fill="#333" text-anchor="middle" stroke="#333" stroke-width="0.09">**</text>
<text x="160.40" y="448.37" font-size="5.9" fill="#222" text-anchor="end" textLength="49.70" lengthAdjust="spacingAndGlyphs" stroke="#222" stroke-width="0.09">Let-7b-5p-inhibitor</text>
<text x="164.80" y="448.25" font-size="5.0" fill="#333" text-anchor="middle" stroke="#333" stroke-width="0.09">+</text>
<text x="174.10" y="448.25" font-size="5.0" fill="#333" text-anchor="middle" stroke="#333" stroke-width="0.09">-</text>
<text x="186.20" y="448.25" font-size="5.0" fill="#333" text-anchor="middle" stroke="#333" stroke-width="0.09">-</text>
<text x="197.00" y="448.25" font-size="5.0" fill="#333" text-anchor="middle" stroke="#333" stroke-width="0.09">-</text>
<text x="160.40" y="456.57" font-size="5.9" fill="#222" text-anchor="end" textLength="30.40" lengthAdjust="spacingAndGlyphs" stroke="#222" stroke-width="0.09">Inhibitor-nc</text>
<text x="164.80" y="456.45" font-size="5.0" fill="#333" text-anchor="middle" stroke="#333" stroke-width="0.09">-</text>
<text x="174.10" y="456.45" font-size="5.0" fill="#333" text-anchor="middle" stroke="#333" stroke-width="0.09">+</text>
<text x="186.20" y="456.45" font-size="5.0" fill="#333" text-anchor="middle" stroke="#333" stroke-width="0.09">+</text>
<text x="197.00" y="456.45" font-size="5.0" fill="#333" text-anchor="middle" stroke="#333" stroke-width="0.09">+</text>
<text x="160.40" y="463.87" font-size="5.9" fill="#222" text-anchor="end" textLength="14.20" lengthAdjust="spacingAndGlyphs" stroke="#222" stroke-width="0.09">Si-nc</text>
<text x="164.80" y="463.75" font-size="5.0" fill="#333" text-anchor="middle" stroke="#333" stroke-width="0.09">-</text>
<text x="174.10" y="463.75" font-size="5.0" fill="#333" text-anchor="middle" stroke="#333" stroke-width="0.09">-</text>
<text x="186.20" y="463.75" font-size="5.0" fill="#333" text-anchor="middle" stroke="#333" stroke-width="0.09">+</text>
<text x="197.00" y="463.75" font-size="5.0" fill="#333" text-anchor="middle" stroke="#333" stroke-width="0.09">-</text>
<text x="160.40" y="472.07" font-size="5.9" fill="#222" text-anchor="end" textLength="29.60" lengthAdjust="spacingAndGlyphs" stroke="#222" stroke-width="0.09">TGFBR1-Si</text>
<text x="164.80" y="471.95" font-size="5.0" fill="#333" text-anchor="middle" stroke="#333" stroke-width="0.09">+</text>
<text x="174.10" y="471.95" font-size="5.0" fill="#333" text-anchor="middle" stroke="#333" stroke-width="0.09">-</text>
<text x="186.20" y="471.95" font-size="5.0" fill="#333" text-anchor="middle" stroke="#333" stroke-width="0.09">-</text>
<text x="197.00" y="471.95" font-size="5.0" fill="#333" text-anchor="middle" stroke="#333" stroke-width="0.09">+</text>
<text x="216.30" y="374.40" font-size="10.3" fill="#1a1a1a" stroke="#1a1a1a" stroke-width="0.35">I</text>
<rect x="268.40" y="384.30" width="44.00" height="4.80" fill="#6b6b6b" stroke="#3a3a3a" stroke-width="0.5"/>
<rect x="312.40" y="384.30" width="13.10" height="4.80" fill="#ffffff" stroke="#3a3a3a" stroke-width="0.5"/>
<rect x="325.50" y="384.30" width="17.50" height="4.80" fill="#111111" stroke="#111" stroke-width="0.5"/>
<rect x="343.00" y="384.30" width="12.40" height="4.80" fill="#ffffff" stroke="#3a3a3a" stroke-width="0.5"/>
<text x="267.70" y="388.80" font-size="5.9" fill="#222" text-anchor="end" textLength="49.60" lengthAdjust="spacingAndGlyphs" stroke="#222" stroke-width="0.09">TGFBR1-3'UTR-wt</text>
<text x="268.40" y="395.50" font-size="5.6" fill="#222" textLength="42.70" lengthAdjust="spacingAndGlyphs" stroke="#222" stroke-width="0.09">Firefly luciferase</text>
<line x1="325.50" y1="384.30" x2="314.70" y2="379.70" stroke="#777" stroke-width="0.4"/>
<line x1="343.00" y1="384.30" x2="354.90" y2="379.70" stroke="#777" stroke-width="0.4"/>
<rect x="268.40" y="406.00" width="43.20" height="4.80" fill="#6b6b6b" stroke="#3a3a3a" stroke-width="0.5"/>
<rect x="311.60" y="406.00" width="13.10" height="4.80" fill="#ffffff" stroke="#3a3a3a" stroke-width="0.5"/>
<rect x="324.70" y="406.00" width="17.80" height="4.80" fill="#111111" stroke="#111" stroke-width="0.5"/>
<rect x="342.50" y="406.00" width="12.40" height="4.80" fill="#ffffff" stroke="#3a3a3a" stroke-width="0.5"/>
<text x="267.40" y="411.00" font-size="5.9" fill="#222" text-anchor="end" textLength="55.20" lengthAdjust="spacingAndGlyphs" stroke="#222" stroke-width="0.09">TGFBR1-3'UTR-mut1</text>
<text x="268.40" y="417.20" font-size="5.6" fill="#222" textLength="42.70" lengthAdjust="spacingAndGlyphs" stroke="#222" stroke-width="0.09">Firefly luciferase</text>
<line x1="324.70" y1="406.00" x2="313.90" y2="401.40" stroke="#777" stroke-width="0.4"/>
<line x1="342.50" y1="406.00" x2="354.40" y2="401.40" stroke="#777" stroke-width="0.4"/>
<rect x="269.10" y="428.40" width="43.40" height="4.80" fill="#6b6b6b" stroke="#3a3a3a" stroke-width="0.5"/>
<rect x="312.50" y="428.40" width="13.30" height="4.80" fill="#ffffff" stroke="#3a3a3a" stroke-width="0.5"/>
<rect x="325.80" y="428.40" width="17.00" height="4.80" fill="#111111" stroke="#111" stroke-width="0.5"/>
<rect x="342.80" y="428.40" width="13.60" height="4.80" fill="#ffffff" stroke="#3a3a3a" stroke-width="0.5"/>
<text x="268.10" y="433.60" font-size="5.9" fill="#222" text-anchor="end" textLength="55.40" lengthAdjust="spacingAndGlyphs" stroke="#222" stroke-width="0.09">TGFBR1-3'UTR-mut2</text>
<text x="269.10" y="439.60" font-size="5.6" fill="#222" textLength="42.70" lengthAdjust="spacingAndGlyphs" stroke="#222" stroke-width="0.09">Firefly luciferase</text>
<line x1="325.80" y1="428.40" x2="315.00" y2="423.80" stroke="#777" stroke-width="0.4"/>
<line x1="342.80" y1="428.40" x2="354.70" y2="423.80" stroke="#777" stroke-width="0.4"/>
<text x="312.10" y="373.60" font-size="5.2" fill="#222" textLength="12.50" lengthAdjust="spacingAndGlyphs" stroke="#222" stroke-width="0.09">5'tgtt</text>
<text x="324.60" y="373.60" font-size="5.2" fill="#ef2b2b" textLength="22.10" lengthAdjust="spacingAndGlyphs" stroke="#ef2b2b" stroke-width="0.09">ctacctca</text>
<text x="346.70" y="373.60" font-size="5.2" fill="#222" textLength="17.70" lengthAdjust="spacingAndGlyphs" stroke="#222" stroke-width="0.09">ctga-3'</text>
<text x="367.00" y="373.60" font-size="5.2" fill="#222" textLength="12.00" lengthAdjust="spacingAndGlyphs" stroke="#222" stroke-width="0.09">site1</text>
<text x="311.60" y="378.50" font-size="5.2" fill="#222" textLength="18.10" lengthAdjust="spacingAndGlyphs" stroke="#222" stroke-width="0.09">5'-acat</text>
<text x="329.70" y="378.50" font-size="5.2" fill="#ef2b2b" textLength="19.10" lengthAdjust="spacingAndGlyphs" stroke="#ef2b2b" stroke-width="0.09">taccctca</text>
<text x="348.80" y="378.50" font-size="5.2" fill="#222" textLength="15.00" lengthAdjust="spacingAndGlyphs" stroke="#222" stroke-width="0.09">ttgt-3'</text>
<text x="365.30" y="378.50" font-size="5.2" fill="#222" textLength="12.90" lengthAdjust="spacingAndGlyphs" stroke="#222" stroke-width="0.09">site2</text>
<text x="306.50" y="400.60" font-size="5.2" fill="#222" textLength="14.80" lengthAdjust="spacingAndGlyphs" stroke="#222" stroke-width="0.09">5'-tgtt</text>
<text x="321.30" y="400.60" font-size="5.2" fill="#ef2b2b" textLength="23.20" lengthAdjust="spacingAndGlyphs" stroke="#ef2b2b" stroke-width="0.09">gatggagt</text>
<text x="344.50" y="400.60" font-size="5.2" fill="#222" textLength="17.30" lengthAdjust="spacingAndGlyphs" stroke="#222" stroke-width="0.09">ctga-3'</text>
<text x="365.00" y="400.60" font-size="5.2" fill="#222" textLength="11.70" lengthAdjust="spacingAndGlyphs" stroke="#222" stroke-width="0.09">site1</text>
<text x="303.90" y="422.60" font-size="5.2" fill="#222" textLength="18.00" lengthAdjust="spacingAndGlyphs" stroke="#222" stroke-width="0.09">5'-acat</text>
<text x="321.90" y="422.60" font-size="5.2" fill="#ef2b2b" textLength="23.80" lengthAdjust="spacingAndGlyphs" stroke="#ef2b2b" stroke-width="0.09">gaggtgat</text>
<text x="345.70" y="422.60" font-size="5.2" fill="#222" textLength="15.30" lengthAdjust="spacingAndGlyphs" stroke="#222" stroke-width="0.09">ttgt-3'</text>
<text x="362.20" y="422.60" font-size="5.2" fill="#222" textLength="11.20" lengthAdjust="spacingAndGlyphs" stroke="#222" stroke-width="0.09">site2</text>
<text x="4.10" y="482.60" font-size="10.3" fill="#1a1a1a" stroke="#1a1a1a" stroke-width="0.35">J</text>
<text x="67.00" y="494.60" font-size="5.4" fill="#222" text-anchor="end" textLength="41.20" lengthAdjust="spacingAndGlyphs" stroke="#222" stroke-width="0.09">TGFBR1-3'UTR</text>
<text x="69.10" y="506.90" font-size="5.4" fill="#222" text-anchor="end" textLength="24.80" lengthAdjust="spacingAndGlyphs" stroke="#222" stroke-width="0.09">Let-7b-5p</text>
<text x="69.70" y="525.90" font-size="5.4" fill="#222" text-anchor="end" textLength="40.80" lengthAdjust="spacingAndGlyphs" stroke="#222" stroke-width="0.09">TGFBR1-3'UTR</text>
<text x="68.50" y="538.30" font-size="5.4" fill="#222" text-anchor="end" textLength="24.80" lengthAdjust="spacingAndGlyphs" stroke="#222" stroke-width="0.09">Let-7b-5p</text>
<text x="95.70" y="486.00" font-size="5.2" fill="#222" textLength="51.90" lengthAdjust="spacingAndGlyphs" stroke="#222" stroke-width="0.09">Binding site1 (75-82)</text>
<text x="97.50" y="516.20" font-size="5.2" fill="#222" textLength="66.30" lengthAdjust="spacingAndGlyphs" stroke="#222" stroke-width="0.09">Binding site 2(3889-3895)</text>
<text x="72.20" y="496.80" font-size="5.9" fill="#222" textLength="113.20" lengthAdjust="spacingAndGlyphs" stroke="#222" stroke-width="0.09"><tspan fill="#222" stroke="#222" stroke-width="0.09">5' - GGGAGGUCAAUUGUU</tspan><tspan fill="#ef2b2b" stroke="#ef2b2b" stroke-width="0.09">CUACCUCA</tspan><tspan fill="#222" stroke="#222" stroke-width="0.09"> - 3'</tspan></text>
<text x="76.20" y="508.10" font-size="5.9" fill="#222" textLength="109.20" lengthAdjust="spacingAndGlyphs" stroke="#222" stroke-width="0.09"><tspan fill="#222" stroke="#222" stroke-width="0.09">3'- UUGGUGUGUUGGAU</tspan><tspan fill="#ef2b2b" stroke="#ef2b2b" stroke-width="0.09">GAUGGAGU</tspan><tspan fill="#222" stroke="#222" stroke-width="0.09"> -5'</tspan></text>
<text x="74.00" y="528.30" font-size="5.9" fill="#222" textLength="109.60" lengthAdjust="spacingAndGlyphs" stroke="#222" stroke-width="0.09"><tspan fill="#222" stroke="#222" stroke-width="0.09">5'- AGACCAAGGUACAUU</tspan><tspan fill="#ef2b2b" stroke="#ef2b2b" stroke-width="0.09">UACCUCAU</tspan><tspan fill="#222" stroke="#222" stroke-width="0.09"> - 3'</tspan></text>
<text x="83.00" y="540.20" font-size="5.9" fill="#222" textLength="109.70" lengthAdjust="spacingAndGlyphs" stroke="#222" stroke-width="0.09"><tspan fill="#222" stroke="#222" stroke-width="0.09">3'- UUGGUGUGUUGG</tspan><tspan fill="#ef2b2b" stroke="#ef2b2b" stroke-width="0.09">AUGAUGGA</tspan><tspan fill="#222" stroke="#222" stroke-width="0.09">GU - 5'</tspan></text>
<line x1="146.30" y1="496.80" x2="146.30" y2="501.60" stroke="#222" stroke-width="0.75"/>
<line x1="141.60" y1="529.60" x2="141.60" y2="533.80" stroke="#222" stroke-width="0.75"/>
<line x1="150.01" y1="496.80" x2="150.01" y2="501.60" stroke="#222" stroke-width="0.75"/>
<line x1="145.54" y1="529.60" x2="145.54" y2="533.80" stroke="#222" stroke-width="0.75"/>
<line x1="153.73" y1="496.80" x2="153.73" y2="501.60" stroke="#222" stroke-width="0.75"/>
<line x1="149.49" y1="529.60" x2="149.49" y2="533.80" stroke="#222" stroke-width="0.75"/>
<line x1="157.44" y1="496.80" x2="157.44" y2="501.60" stroke="#222" stroke-width="0.75"/>
<line x1="153.43" y1="529.60" x2="153.43" y2="533.80" stroke="#222" stroke-width="0.75"/>
<line x1="161.16" y1="496.80" x2="161.16" y2="501.60" stroke="#222" stroke-width="0.75"/>
<line x1="157.37" y1="529.60" x2="157.37" y2="533.80" stroke="#222" stroke-width="0.75"/>
<line x1="164.87" y1="496.80" x2="164.87" y2="501.60" stroke="#222" stroke-width="0.75"/>
<line x1="161.31" y1="529.60" x2="161.31" y2="533.80" stroke="#222" stroke-width="0.75"/>
<line x1="168.59" y1="496.80" x2="168.59" y2="501.60" stroke="#222" stroke-width="0.75"/>
<line x1="165.26" y1="529.60" x2="165.26" y2="533.80" stroke="#222" stroke-width="0.75"/>
<line x1="172.30" y1="496.80" x2="172.30" y2="501.60" stroke="#222" stroke-width="0.75"/>
<line x1="169.20" y1="529.60" x2="169.20" y2="533.80" stroke="#222" stroke-width="0.75"/>
<text x="220.60" y="454.20" font-size="10.3" fill="#1a1a1a" stroke="#1a1a1a" stroke-width="0.35">K</text>
<line x1="246.60" y1="455.00" x2="246.60" y2="527.90" stroke="#555" stroke-width="1.2"/>
<line x1="246.10" y1="527.30" x2="290.20" y2="527.30" stroke="#444" stroke-width="1.1"/>
<line x1="244.20" y1="527.30" x2="246.60" y2="527.30" stroke="#444" stroke-width="0.9"/>
<text x="243.70" y="529.10" font-size="5.2" fill="#444" text-anchor="end" stroke="#444" stroke-width="0.09">0.0</text>
<line x1="244.20" y1="503.55" x2="246.60" y2="503.55" stroke="#444" stroke-width="0.9"/>
<text x="243.70" y="505.35" font-size="5.2" fill="#444" text-anchor="end" stroke="#444" stroke-width="0.09">0.5</text>
<line x1="244.20" y1="479.80" x2="246.60" y2="479.80" stroke="#444" stroke-width="0.9"/>
<text x="243.70" y="481.60" font-size="5.2" fill="#444" text-anchor="end" stroke="#444" stroke-width="0.09">1.0</text>
<line x1="244.20" y1="456.05" x2="246.60" y2="456.05" stroke="#444" stroke-width="0.9"/>
<text x="243.70" y="457.85" font-size="5.2" fill="#444" text-anchor="end" stroke="#444" stroke-width="0.09">1.5</text>
<text x="234.10" y="488.50" font-size="5.2" fill="#333" text-anchor="middle" textLength="30.50" lengthAdjust="spacingAndGlyphs" transform="rotate(-90 234.10 488.50)" stroke="#333" stroke-width="0.09">Luc/R-Luc</text>
<circle cx="253.60" cy="453.40" r="0.75" fill="#333"/>
<text x="261.40" y="455.30" font-size="5.5" fill="#333" textLength="7.80" lengthAdjust="spacingAndGlyphs" stroke="#333" stroke-width="0.09">WT</text>
<circle cx="273.40" cy="453.40" r="0.75" fill="#f23a3f"/>
<text x="280.60" y="455.30" font-size="5.5" fill="#333" textLength="11.30" lengthAdjust="spacingAndGlyphs" stroke="#333" stroke-width="0.09">Mut1</text>
<rect x="253.45" y="479.20" width="5.60" height="48.10" fill="none" stroke="#7d7373" stroke-width="0.9"/>
<line x1="256.25" y1="527.30" x2="256.25" y2="529.30" stroke="#333" stroke-width="0.9"/>
<line x1="256.25" y1="478.00" x2="256.25" y2="480.40" stroke="#444" stroke-width="0.7"/>
<line x1="254.75" y1="478.00" x2="257.75" y2="478.00" stroke="#444" stroke-width="0.7"/>
<line x1="254.75" y1="480.40" x2="257.75" y2="480.40" stroke="#444" stroke-width="0.7"/>
<circle cx="256.50" cy="473.30" r="0.60" fill="#444"/>
<circle cx="255.50" cy="478.00" r="0.60" fill="#444"/>
<circle cx="257.50" cy="478.50" r="0.60" fill="#444"/>
<circle cx="256.50" cy="480.50" r="0.60" fill="#444"/>
<circle cx="255.00" cy="482.00" r="0.60" fill="#444"/>
<circle cx="258.00" cy="482.00" r="0.60" fill="#444"/>
<text x="258.25" y="535.90" font-size="5.2" fill="#333" text-anchor="end" transform="rotate(-50 258.25 535.90)" stroke="#333" stroke-width="0.09">nc</text>
<rect x="261.95" y="493.80" width="4.20" height="33.50" fill="none" stroke="#7d7373" stroke-width="0.9"/>
<line x1="264.05" y1="527.30" x2="264.05" y2="529.30" stroke="#333" stroke-width="0.9"/>
<line x1="264.05" y1="490.30" x2="264.05" y2="497.30" stroke="#444" stroke-width="0.7"/>
<line x1="262.55" y1="490.30" x2="265.55" y2="490.30" stroke="#444" stroke-width="0.7"/>
<line x1="262.55" y1="497.30" x2="265.55" y2="497.30" stroke="#444" stroke-width="0.7"/>
<circle cx="264.00" cy="484.50" r="0.60" fill="#444"/>
<circle cx="264.00" cy="486.50" r="0.60" fill="#444"/>
<circle cx="264.00" cy="489.00" r="0.60" fill="#444"/>
<circle cx="264.00" cy="490.50" r="0.60" fill="#444"/>
<circle cx="264.00" cy="496.50" r="0.60" fill="#444"/>
<circle cx="264.00" cy="500.00" r="0.60" fill="#444"/>
<circle cx="264.00" cy="509.70" r="0.60" fill="#444"/>
<text x="266.05" y="535.90" font-size="5.2" fill="#333" text-anchor="end" transform="rotate(-50 266.05 535.90)" stroke="#333" stroke-width="0.09">let7b-5p</text>
<rect x="274.75" y="480.10" width="5.80" height="47.20" fill="none" stroke="#f23a3f" stroke-width="0.9"/>
<line x1="277.65" y1="527.30" x2="277.65" y2="529.30" stroke="#333" stroke-width="0.9"/>
<line x1="277.65" y1="477.10" x2="277.65" y2="483.10" stroke="#f23a3f" stroke-width="0.7"/>
<line x1="276.15" y1="477.10" x2="279.15" y2="477.10" stroke="#f23a3f" stroke-width="0.7"/>
<line x1="276.15" y1="483.10" x2="279.15" y2="483.10" stroke="#f23a3f" stroke-width="0.7"/>
<circle cx="277.70" cy="468.50" r="0.60" fill="#f23a3f"/>
<circle cx="277.70" cy="473.50" r="0.60" fill="#f23a3f"/>
<circle cx="277.70" cy="477.50" r="0.60" fill="#f23a3f"/>
<circle cx="277.70" cy="482.00" r="0.60" fill="#f23a3f"/>
<circle cx="277.70" cy="497.00" r="0.60" fill="#f23a3f"/>
<text x="279.65" y="535.90" font-size="5.2" fill="#333" text-anchor="end" transform="rotate(-50 279.65 535.90)" stroke="#333" stroke-width="0.09">nc</text>
<rect x="282.65" y="478.60" width="5.70" height="48.70" fill="none" stroke="#f23a3f" stroke-width="0.9"/>
<line x1="285.50" y1="527.30" x2="285.50" y2="529.30" stroke="#333" stroke-width="0.9"/>
<line x1="285.50" y1="475.10" x2="285.50" y2="482.10" stroke="#f23a3f" stroke-width="0.7"/>
<line x1="284.00" y1="475.10" x2="287.00" y2="475.10" stroke="#f23a3f" stroke-width="0.7"/>
<line x1="284.00" y1="482.10" x2="287.00" y2="482.10" stroke="#f23a3f" stroke-width="0.7"/>
<circle cx="285.50" cy="466.20" r="0.60" fill="#f23a3f"/>
<circle cx="285.50" cy="471.00" r="0.60" fill="#f23a3f"/>
<circle cx="285.00" cy="476.00" r="0.60" fill="#f23a3f"/>
<circle cx="286.50" cy="477.00" r="0.60" fill="#f23a3f"/>
<circle cx="285.50" cy="483.00" r="0.60" fill="#f23a3f"/>
<circle cx="285.50" cy="503.00" r="0.60" fill="#f23a3f"/>
<text x="287.50" y="535.90" font-size="5.2" fill="#333" text-anchor="end" transform="rotate(-50 287.50 535.90)" stroke="#333" stroke-width="0.09">let7b-5p</text>
<line x1="253.60" y1="467.10" x2="264.80" y2="467.10" stroke="#333" stroke-width="1.0"/>
<text x="259.20" y="464.97" font-size="5.2" fill="#333" text-anchor="middle" stroke="#333" stroke-width="0.09">***</text>
<line x1="276.90" y1="463.70" x2="287.60" y2="463.70" stroke="#333" stroke-width="1.0"/>
<text x="282.25" y="461.60" font-size="5.6" fill="#333" text-anchor="middle" stroke="#333" stroke-width="0.09">ns</text>
<text x="301.60" y="454.50" font-size="10.3" fill="#1a1a1a" stroke="#1a1a1a" stroke-width="0.35">L</text>
<line x1="321.60" y1="455.00" x2="321.60" y2="527.90" stroke="#555" stroke-width="1.2"/>
<line x1="321.10" y1="527.30" x2="365.30" y2="527.30" stroke="#444" stroke-width="1.1"/>
<line x1="319.20" y1="527.30" x2="321.60" y2="527.30" stroke="#444" stroke-width="0.9"/>
<text x="318.70" y="529.10" font-size="5.2" fill="#444" text-anchor="end" stroke="#444" stroke-width="0.09">0.0</text>
<line x1="319.20" y1="503.55" x2="321.60" y2="503.55" stroke="#444" stroke-width="0.9"/>
<text x="318.70" y="505.35" font-size="5.2" fill="#444" text-anchor="end" stroke="#444" stroke-width="0.09">0.5</text>
<line x1="319.20" y1="479.80" x2="321.60" y2="479.80" stroke="#444" stroke-width="0.9"/>
<text x="318.70" y="481.60" font-size="5.2" fill="#444" text-anchor="end" stroke="#444" stroke-width="0.09">1.0</text>
<line x1="319.20" y1="456.05" x2="321.60" y2="456.05" stroke="#444" stroke-width="0.9"/>
<text x="318.70" y="457.85" font-size="5.2" fill="#444" text-anchor="end" stroke="#444" stroke-width="0.09">1.5</text>
<text x="309.10" y="488.50" font-size="5.2" fill="#333" text-anchor="middle" textLength="30.50" lengthAdjust="spacingAndGlyphs" transform="rotate(-90 309.10 488.50)" stroke="#333" stroke-width="0.09">Luc/R-Luc</text>
<circle cx="331.70" cy="453.40" r="0.75" fill="#333"/>
<text x="339.50" y="455.30" font-size="5.5" fill="#333" textLength="7.80" lengthAdjust="spacingAndGlyphs" stroke="#333" stroke-width="0.09">WT</text>
<circle cx="351.50" cy="453.40" r="0.75" fill="#f23a3f"/>
<text x="358.70" y="455.30" font-size="5.5" fill="#333" textLength="11.30" lengthAdjust="spacingAndGlyphs" stroke="#333" stroke-width="0.09">Mut2</text>
<rect x="328.45" y="480.40" width="5.60" height="46.90" fill="none" stroke="#7d7373" stroke-width="0.9"/>
<line x1="331.25" y1="527.30" x2="331.25" y2="529.30" stroke="#333" stroke-width="0.9"/>
<line x1="331.25" y1="477.90" x2="331.25" y2="482.90" stroke="#444" stroke-width="0.7"/>
<line x1="329.75" y1="477.90" x2="332.75" y2="477.90" stroke="#444" stroke-width="0.7"/>
<line x1="329.75" y1="482.90" x2="332.75" y2="482.90" stroke="#444" stroke-width="0.7"/>
<circle cx="331.50" cy="470.00" r="0.60" fill="#444"/>
<circle cx="331.50" cy="477.00" r="0.60" fill="#444"/>
<circle cx="331.50" cy="482.00" r="0.60" fill="#444"/>
<circle cx="332.50" cy="485.00" r="0.60" fill="#444"/>
<circle cx="331.00" cy="486.50" r="0.60" fill="#444"/>
<text x="333.25" y="535.90" font-size="5.2" fill="#333" text-anchor="end" transform="rotate(-50 333.25 535.90)" stroke="#333" stroke-width="0.09">nc</text>
<rect x="336.95" y="505.20" width="4.80" height="22.10" fill="none" stroke="#7d7373" stroke-width="0.9"/>
<line x1="339.35" y1="527.30" x2="339.35" y2="529.30" stroke="#333" stroke-width="0.9"/>
<line x1="339.35" y1="502.70" x2="339.35" y2="507.70" stroke="#444" stroke-width="0.7"/>
<line x1="337.85" y1="502.70" x2="340.85" y2="502.70" stroke="#444" stroke-width="0.7"/>
<line x1="337.85" y1="507.70" x2="340.85" y2="507.70" stroke="#444" stroke-width="0.7"/>
<circle cx="339.50" cy="494.80" r="0.60" fill="#444"/>
<circle cx="338.50" cy="502.00" r="0.60" fill="#444"/>
<circle cx="340.50" cy="502.00" r="0.60" fill="#444"/>
<circle cx="339.50" cy="508.00" r="0.60" fill="#444"/>
<circle cx="339.50" cy="512.00" r="0.60" fill="#444"/>
<circle cx="339.50" cy="515.50" r="0.60" fill="#444"/>
<text x="341.35" y="535.90" font-size="5.2" fill="#333" text-anchor="end" transform="rotate(-50 341.35 535.90)" stroke="#333" stroke-width="0.09">let7b-5p</text>
<rect x="349.75" y="480.40" width="5.80" height="46.90" fill="none" stroke="#f23a3f" stroke-width="0.9"/>
<line x1="352.65" y1="527.30" x2="352.65" y2="529.30" stroke="#333" stroke-width="0.9"/>
<line x1="352.65" y1="477.90" x2="352.65" y2="482.90" stroke="#f23a3f" stroke-width="0.7"/>
<line x1="351.15" y1="477.90" x2="354.15" y2="477.90" stroke="#f23a3f" stroke-width="0.7"/>
<line x1="351.15" y1="482.90" x2="354.15" y2="482.90" stroke="#f23a3f" stroke-width="0.7"/>
<circle cx="352.50" cy="474.50" r="0.60" fill="#f23a3f"/>
<circle cx="351.50" cy="475.50" r="0.60" fill="#f23a3f"/>
<circle cx="353.50" cy="475.50" r="0.60" fill="#f23a3f"/>
<circle cx="352.50" cy="485.50" r="0.60" fill="#f23a3f"/>
<circle cx="352.50" cy="489.50" r="0.60" fill="#f23a3f"/>
<text x="354.65" y="535.90" font-size="5.2" fill="#333" text-anchor="end" transform="rotate(-50 354.65 535.90)" stroke="#333" stroke-width="0.09">nc</text>
<rect x="357.65" y="481.30" width="5.70" height="46.00" fill="none" stroke="#f23a3f" stroke-width="0.9"/>
<line x1="360.50" y1="527.30" x2="360.50" y2="529.30" stroke="#333" stroke-width="0.9"/>
<line x1="360.50" y1="478.30" x2="360.50" y2="484.30" stroke="#f23a3f" stroke-width="0.7"/>
<line x1="359.00" y1="478.30" x2="362.00" y2="478.30" stroke="#f23a3f" stroke-width="0.7"/>
<line x1="359.00" y1="484.30" x2="362.00" y2="484.30" stroke="#f23a3f" stroke-width="0.7"/>
<circle cx="360.50" cy="471.50" r="0.60" fill="#f23a3f"/>
<circle cx="360.50" cy="474.50" r="0.60" fill="#f23a3f"/>
<circle cx="360.50" cy="476.50" r="0.60" fill="#f23a3f"/>
<circle cx="360.50" cy="485.50" r="0.60" fill="#f23a3f"/>
<circle cx="360.50" cy="489.00" r="0.60" fill="#f23a3f"/>
<circle cx="360.50" cy="492.50" r="0.60" fill="#f23a3f"/>
<text x="362.50" y="535.90" font-size="5.2" fill="#333" text-anchor="end" transform="rotate(-50 362.50 535.90)" stroke="#333" stroke-width="0.09">let7b-5p</text>
<line x1="328.50" y1="467.40" x2="339.30" y2="467.40" stroke="#333" stroke-width="1.0"/>
<text x="333.90" y="466.37" font-size="5.2" fill="#333" text-anchor="middle" stroke="#333" stroke-width="0.09">**</text>
<line x1="351.50" y1="469.50" x2="362.50" y2="469.50" stroke="#333" stroke-width="1.0"/>
<text x="357.00" y="466.90" font-size="5.6" fill="#333" text-anchor="middle" stroke="#333" stroke-width="0.09">ns</text>
</svg></body></html>
